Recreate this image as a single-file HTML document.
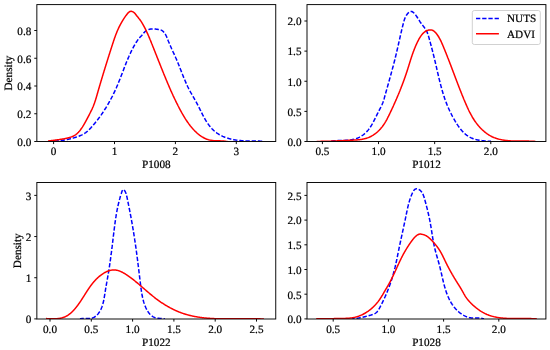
<!DOCTYPE html>
<html><head><meta charset="utf-8"><style>
html,body{margin:0;padding:0;background:#fff;width:550px;height:350px;overflow:hidden}
svg{display:block;text-rendering:geometricPrecision}
svg text{font-family:"Liberation Serif", "DejaVu Serif", serif;font-size:11.2px;fill:#000;stroke:#000;stroke-width:0.22px}
</style></head><body>
<svg width="550" height="350" viewBox="0 0 550 350">
<rect width="100%" height="100%" fill="#fff"/>
<g>
<clipPath id="cA1"><rect x="36.85" y="2.60" width="238.90" height="138.90"/></clipPath>
<path d="M50.00,141.22 L50.57,141.22 L51.13,141.21 L51.70,141.20 L52.27,141.19 L52.83,141.17 L53.40,141.15 L53.96,141.13 L54.52,141.10 L55.09,141.07 L55.65,141.04 L56.22,141.00 L56.78,140.95 L57.34,140.91 L57.91,140.86 L58.47,140.80 L59.03,140.75 L59.59,140.69 L60.15,140.62 L60.71,140.55 L61.27,140.48 L61.83,140.41 L62.39,140.33 L62.95,140.24 L63.51,140.16 L64.07,140.06 L64.63,139.97 L65.18,139.87 L65.74,139.77 L66.29,139.67 L66.85,139.56 L67.40,139.44 L67.96,139.33 L68.51,139.21 L69.06,139.08 L69.61,138.96 L70.17,138.83 L70.72,138.69 L71.27,138.55 L71.82,138.41 L72.36,138.26 L72.91,138.12 L73.46,137.96 L74.00,137.81 L74.55,137.64 L75.09,137.48 L75.64,137.31 L76.18,137.14 L76.72,136.96 L77.25,136.78 L77.79,136.59 L78.32,136.40 L78.85,136.20 L79.38,135.99 L79.90,135.78 L80.42,135.56 L80.93,135.33 L81.44,135.09 L81.95,134.85 L82.45,134.60 L82.94,134.34 L83.43,134.06 L83.91,133.78 L84.39,133.49 L84.86,133.19 L85.32,132.88 L85.78,132.56 L86.23,132.22 L86.67,131.88 L87.10,131.52 L87.53,131.16 L87.95,130.78 L88.37,130.40 L88.78,130.01 L89.18,129.61 L89.58,129.21 L89.98,128.80 L90.37,128.39 L90.75,127.97 L91.14,127.55 L91.52,127.12 L91.90,126.69 L92.28,126.26 L92.65,125.83 L93.02,125.40 L93.39,124.97 L93.76,124.53 L94.13,124.09 L94.49,123.66 L94.86,123.22 L95.22,122.78 L95.57,122.34 L95.93,121.89 L96.29,121.45 L96.64,121.00 L96.99,120.56 L97.34,120.11 L97.68,119.66 L98.03,119.21 L98.37,118.76 L98.71,118.30 L99.05,117.85 L99.39,117.39 L99.72,116.94 L100.06,116.48 L100.39,116.02 L100.72,115.56 L101.05,115.10 L101.37,114.63 L101.69,114.17 L102.02,113.70 L102.34,113.24 L102.65,112.77 L102.97,112.30 L103.28,111.83 L103.60,111.36 L103.91,110.89 L104.22,110.41 L104.52,109.94 L104.83,109.46 L105.13,108.99 L105.43,108.51 L105.73,108.03 L106.03,107.55 L106.32,107.07 L106.62,106.59 L106.91,106.11 L107.20,105.62 L107.49,105.14 L107.77,104.65 L108.06,104.16 L108.34,103.67 L108.62,103.18 L108.90,102.69 L109.18,102.20 L109.45,101.71 L109.73,101.22 L110.00,100.72 L110.27,100.23 L110.54,99.73 L110.80,99.23 L111.07,98.73 L111.33,98.24 L111.59,97.74 L111.85,97.23 L112.11,96.73 L112.36,96.23 L112.62,95.73 L112.87,95.22 L113.12,94.72 L113.37,94.21 L113.62,93.70 L113.86,93.19 L114.11,92.68 L114.35,92.17 L114.59,91.66 L114.83,91.15 L115.06,90.64 L115.30,90.12 L115.53,89.61 L115.76,89.10 L115.99,88.58 L116.22,88.06 L116.45,87.55 L116.67,87.03 L116.90,86.51 L117.12,85.99 L117.34,85.47 L117.56,84.95 L117.78,84.42 L117.99,83.90 L118.21,83.38 L118.42,82.86 L118.64,82.33 L118.85,81.81 L119.06,81.28 L119.27,80.76 L119.48,80.23 L119.68,79.70 L119.89,79.18 L120.10,78.65 L120.30,78.12 L120.51,77.60 L120.71,77.07 L120.92,76.54 L121.12,76.01 L121.33,75.48 L121.53,74.95 L121.73,74.42 L121.93,73.90 L122.14,73.37 L122.34,72.84 L122.54,72.31 L122.74,71.78 L122.95,71.25 L123.15,70.72 L123.35,70.19 L123.55,69.66 L123.76,69.13 L123.96,68.61 L124.16,68.08 L124.37,67.55 L124.57,67.02 L124.78,66.49 L124.98,65.97 L125.19,65.44 L125.40,64.91 L125.61,64.39 L125.82,63.86 L126.03,63.34 L126.24,62.81 L126.45,62.29 L126.66,61.76 L126.88,61.24 L127.09,60.72 L127.31,60.19 L127.53,59.67 L127.75,59.15 L127.97,58.63 L128.19,58.11 L128.41,57.59 L128.64,57.07 L128.87,56.56 L129.09,56.04 L129.33,55.52 L129.56,55.01 L129.79,54.50 L130.03,53.98 L130.27,53.47 L130.51,52.96 L130.75,52.45 L130.99,51.94 L131.24,51.43 L131.49,50.93 L131.74,50.42 L131.99,49.92 L132.25,49.41 L132.51,48.91 L132.77,48.41 L133.03,47.91 L133.30,47.41 L133.57,46.91 L133.84,46.42 L134.12,45.92 L134.39,45.43 L134.68,44.94 L134.96,44.45 L135.25,43.96 L135.54,43.47 L135.83,42.98 L136.13,42.50 L136.43,42.02 L136.73,41.54 L137.04,41.06 L137.36,40.59 L137.68,40.13 L138.01,39.67 L138.34,39.22 L138.69,38.77 L139.04,38.34 L139.40,37.92 L139.78,37.50 L140.16,37.10 L140.55,36.70 L140.94,36.30 L141.33,35.90 L141.72,35.50 L142.10,35.08 L142.46,34.65 L142.82,34.20 L143.17,33.74 L143.52,33.29 L143.88,32.84 L144.25,32.42 L144.65,32.01 L145.06,31.64 L145.49,31.28 L145.94,30.95 L146.40,30.64 L146.88,30.36 L147.37,30.11 L147.87,29.87 L148.39,29.66 L148.91,29.48 L149.44,29.32 L149.99,29.19 L150.54,29.08 L151.09,28.99 L151.65,28.94 L152.22,28.90 L152.79,28.89 L153.36,28.89 L153.93,28.91 L154.51,28.95 L155.09,29.01 L155.66,29.07 L156.24,29.14 L156.81,29.22 L157.38,29.31 L157.95,29.40 L158.52,29.49 L159.08,29.58 L159.63,29.68 L160.17,29.80 L160.70,29.95 L161.21,30.14 L161.70,30.37 L162.17,30.66 L162.62,30.99 L163.05,31.36 L163.46,31.76 L163.85,32.18 L164.21,32.62 L164.56,33.07 L164.88,33.53 L165.19,34.01 L165.48,34.49 L165.75,34.98 L166.01,35.48 L166.26,35.99 L166.50,36.50 L166.73,37.01 L166.95,37.54 L167.17,38.06 L167.38,38.59 L167.59,39.12 L167.79,39.65 L168.00,40.18 L168.21,40.71 L168.43,41.23 L168.64,41.76 L168.86,42.28 L169.08,42.81 L169.30,43.33 L169.52,43.85 L169.74,44.37 L169.97,44.89 L170.19,45.41 L170.42,45.93 L170.65,46.45 L170.88,46.96 L171.11,47.48 L171.34,48.00 L171.57,48.51 L171.80,49.03 L172.04,49.54 L172.27,50.06 L172.50,50.57 L172.74,51.08 L172.97,51.60 L173.21,52.11 L173.44,52.62 L173.67,53.14 L173.91,53.65 L174.14,54.16 L174.37,54.68 L174.61,55.19 L174.84,55.71 L175.07,56.22 L175.30,56.73 L175.53,57.25 L175.75,57.77 L175.98,58.28 L176.21,58.80 L176.43,59.32 L176.65,59.84 L176.87,60.36 L177.09,60.88 L177.31,61.40 L177.53,61.92 L177.74,62.44 L177.96,62.96 L178.17,63.48 L178.38,64.01 L178.59,64.53 L178.80,65.06 L179.01,65.58 L179.22,66.11 L179.43,66.63 L179.64,67.16 L179.85,67.68 L180.05,68.21 L180.26,68.74 L180.47,69.26 L180.67,69.79 L180.88,70.32 L181.08,70.84 L181.29,71.37 L181.50,71.90 L181.70,72.42 L181.91,72.95 L182.12,73.47 L182.33,74.00 L182.53,74.53 L182.74,75.05 L182.95,75.58 L183.16,76.10 L183.37,76.63 L183.59,77.15 L183.80,77.68 L184.01,78.20 L184.23,78.72 L184.44,79.24 L184.66,79.77 L184.88,80.29 L185.10,80.81 L185.32,81.33 L185.55,81.85 L185.77,82.36 L186.00,82.88 L186.23,83.40 L186.46,83.91 L186.69,84.43 L186.93,84.94 L187.17,85.45 L187.41,85.97 L187.65,86.48 L187.89,86.99 L188.14,87.49 L188.39,88.00 L188.64,88.51 L188.90,89.01 L189.15,89.51 L189.41,90.02 L189.68,90.52 L189.94,91.02 L190.21,91.52 L190.48,92.01 L190.76,92.51 L191.03,93.00 L191.31,93.50 L191.59,93.99 L191.87,94.49 L192.15,94.98 L192.43,95.47 L192.71,95.96 L192.99,96.45 L193.28,96.94 L193.56,97.44 L193.84,97.93 L194.13,98.42 L194.41,98.91 L194.69,99.40 L194.97,99.89 L195.25,100.38 L195.53,100.88 L195.81,101.37 L196.08,101.86 L196.36,102.36 L196.63,102.85 L196.90,103.35 L197.16,103.85 L197.43,104.35 L197.69,104.85 L197.95,105.35 L198.20,105.85 L198.46,106.35 L198.71,106.86 L198.97,107.36 L199.22,107.86 L199.47,108.37 L199.72,108.87 L199.96,109.38 L200.21,109.88 L200.46,110.39 L200.71,110.90 L200.96,111.40 L201.21,111.91 L201.46,112.41 L201.71,112.91 L201.96,113.42 L202.21,113.92 L202.47,114.42 L202.72,114.93 L202.98,115.43 L203.24,115.93 L203.51,116.43 L203.77,116.92 L204.04,117.42 L204.32,117.92 L204.59,118.41 L204.87,118.90 L205.15,119.39 L205.44,119.88 L205.73,120.37 L206.03,120.86 L206.33,121.34 L206.64,121.82 L206.95,122.30 L207.26,122.78 L207.58,123.25 L207.90,123.72 L208.23,124.18 L208.57,124.64 L208.91,125.10 L209.25,125.56 L209.60,126.00 L209.96,126.45 L210.32,126.89 L210.69,127.32 L211.06,127.75 L211.44,128.17 L211.82,128.59 L212.21,129.00 L212.61,129.40 L213.01,129.79 L213.42,130.18 L213.83,130.57 L214.25,130.94 L214.68,131.31 L215.11,131.66 L215.55,132.01 L216.00,132.36 L216.45,132.69 L216.90,133.02 L217.37,133.33 L217.83,133.65 L218.31,133.95 L218.79,134.24 L219.27,134.53 L219.76,134.81 L220.25,135.08 L220.75,135.35 L221.25,135.61 L221.76,135.86 L222.27,136.10 L222.78,136.34 L223.30,136.57 L223.82,136.79 L224.34,137.01 L224.87,137.22 L225.40,137.42 L225.93,137.61 L226.47,137.80 L227.01,137.98 L227.55,138.16 L228.09,138.33 L228.64,138.49 L229.18,138.64 L229.73,138.79 L230.28,138.94 L230.83,139.08 L231.39,139.21 L231.94,139.33 L232.50,139.45 L233.05,139.56 L233.61,139.67 L234.17,139.77 L234.72,139.87 L235.28,139.96 L235.84,140.04 L236.40,140.12 L236.96,140.20 L237.52,140.27 L238.08,140.34 L238.64,140.40 L239.20,140.46 L239.77,140.51 L240.33,140.56 L240.89,140.60 L241.45,140.65 L242.02,140.69 L242.58,140.72 L243.15,140.75 L243.71,140.78 L244.28,140.81 L244.84,140.84 L245.41,140.86 L245.97,140.88 L246.54,140.90 L247.10,140.91 L247.67,140.93 L248.24,140.94 L248.80,140.95 L249.37,140.96 L249.93,140.97 L250.50,140.98 L251.07,140.99 L251.63,140.99 L252.20,141.00 L252.77,141.01 L253.33,141.01 L253.90,141.02 L254.47,141.02 L255.03,141.03 L255.60,141.04 L256.16,141.05 L256.73,141.06 L257.30,141.07 L257.86,141.08 L258.43,141.09 L258.99,141.11 L259.56,141.12 L260.12,141.14 L260.68,141.16 L261.25,141.19 L261.81,141.21 L262.37,141.24 L262.94,141.27 L263.50,141.30" fill="none" stroke="#0000ff" stroke-width="1.50" stroke-dasharray="4.3 1.9" stroke-dashoffset="1.74" stroke-linecap="butt" clip-path="url(#cA1)"/>
<path d="M48.00,141.03 L48.58,140.95 L49.15,140.88 L49.73,140.80 L50.30,140.73 L50.88,140.66 L51.45,140.58 L52.02,140.51 L52.60,140.44 L53.17,140.37 L53.74,140.30 L54.31,140.22 L54.88,140.15 L55.46,140.08 L56.03,140.00 L56.60,139.93 L57.17,139.85 L57.74,139.78 L58.31,139.70 L58.88,139.62 L59.46,139.53 L60.03,139.45 L60.60,139.36 L61.17,139.28 L61.74,139.18 L62.31,139.09 L62.88,138.99 L63.45,138.89 L64.03,138.79 L64.60,138.68 L65.17,138.57 L65.74,138.46 L66.31,138.34 L66.88,138.21 L67.45,138.08 L68.01,137.94 L68.57,137.79 L69.13,137.64 L69.68,137.47 L70.23,137.29 L70.78,137.11 L71.32,136.91 L71.85,136.70 L72.37,136.48 L72.89,136.25 L73.41,136.00 L73.91,135.74 L74.41,135.46 L74.89,135.17 L75.37,134.86 L75.84,134.54 L76.30,134.19 L76.75,133.83 L77.18,133.45 L77.61,133.06 L78.03,132.65 L78.44,132.23 L78.83,131.79 L79.22,131.35 L79.60,130.90 L79.97,130.44 L80.34,129.97 L80.69,129.50 L81.04,129.02 L81.38,128.54 L81.72,128.06 L82.05,127.58 L82.37,127.10 L82.68,126.61 L82.99,126.12 L83.30,125.63 L83.60,125.14 L83.89,124.65 L84.19,124.15 L84.47,123.66 L84.76,123.16 L85.04,122.66 L85.31,122.16 L85.59,121.66 L85.86,121.16 L86.13,120.65 L86.40,120.15 L86.67,119.64 L86.93,119.14 L87.20,118.63 L87.46,118.12 L87.73,117.61 L87.99,117.10 L88.26,116.59 L88.53,116.08 L88.79,115.57 L89.06,115.05 L89.33,114.54 L89.59,114.03 L89.86,113.51 L90.12,112.99 L90.38,112.48 L90.64,111.96 L90.90,111.44 L91.15,110.92 L91.41,110.39 L91.66,109.87 L91.90,109.34 L92.15,108.82 L92.39,108.29 L92.62,107.76 L92.85,107.23 L93.08,106.70 L93.30,106.16 L93.52,105.63 L93.73,105.09 L93.94,104.55 L94.14,104.01 L94.34,103.46 L94.53,102.92 L94.72,102.37 L94.91,101.83 L95.09,101.28 L95.27,100.73 L95.45,100.18 L95.62,99.63 L95.79,99.08 L95.96,98.52 L96.13,97.97 L96.29,97.42 L96.45,96.86 L96.62,96.31 L96.78,95.75 L96.94,95.20 L97.10,94.64 L97.26,94.08 L97.42,93.53 L97.57,92.97 L97.73,92.42 L97.89,91.86 L98.05,91.31 L98.21,90.75 L98.37,90.20 L98.53,89.64 L98.70,89.09 L98.86,88.53 L99.02,87.98 L99.18,87.42 L99.34,86.87 L99.50,86.31 L99.67,85.76 L99.83,85.20 L99.99,84.65 L100.16,84.10 L100.32,83.54 L100.48,82.99 L100.65,82.44 L100.81,81.88 L100.98,81.33 L101.14,80.78 L101.31,80.22 L101.47,79.67 L101.64,79.12 L101.80,78.56 L101.97,78.01 L102.14,77.46 L102.30,76.90 L102.47,76.35 L102.64,75.80 L102.80,75.25 L102.97,74.69 L103.14,74.14 L103.31,73.59 L103.48,73.04 L103.64,72.48 L103.81,71.93 L103.98,71.38 L104.15,70.83 L104.32,70.28 L104.49,69.72 L104.66,69.17 L104.83,68.62 L105.00,68.07 L105.17,67.52 L105.34,66.97 L105.51,66.41 L105.68,65.86 L105.85,65.31 L106.02,64.76 L106.20,64.21 L106.37,63.66 L106.54,63.11 L106.71,62.55 L106.89,62.00 L107.06,61.45 L107.23,60.90 L107.40,60.35 L107.58,59.80 L107.75,59.25 L107.92,58.69 L108.10,58.14 L108.27,57.59 L108.45,57.04 L108.62,56.49 L108.79,55.94 L108.97,55.39 L109.14,54.84 L109.32,54.28 L109.49,53.73 L109.67,53.18 L109.85,52.63 L110.02,52.08 L110.20,51.53 L110.37,50.98 L110.55,50.43 L110.73,49.87 L110.90,49.32 L111.08,48.77 L111.26,48.22 L111.43,47.67 L111.61,47.12 L111.79,46.57 L111.97,46.02 L112.14,45.46 L112.32,44.91 L112.50,44.36 L112.68,43.81 L112.86,43.26 L113.04,42.71 L113.22,42.16 L113.40,41.61 L113.58,41.06 L113.77,40.51 L113.95,39.96 L114.14,39.41 L114.33,38.87 L114.52,38.32 L114.71,37.77 L114.90,37.23 L115.10,36.69 L115.29,36.14 L115.49,35.60 L115.69,35.06 L115.90,34.52 L116.10,33.98 L116.31,33.45 L116.52,32.91 L116.74,32.38 L116.96,31.84 L117.18,31.31 L117.40,30.78 L117.63,30.25 L117.86,29.73 L118.09,29.20 L118.32,28.68 L118.56,28.16 L118.81,27.64 L119.05,27.12 L119.30,26.60 L119.56,26.08 L119.82,25.57 L120.08,25.06 L120.34,24.54 L120.61,24.04 L120.89,23.53 L121.17,23.02 L121.45,22.52 L121.73,22.02 L122.03,21.52 L122.32,21.02 L122.62,20.52 L122.93,20.03 L123.24,19.53 L123.55,19.04 L123.87,18.55 L124.20,18.07 L124.53,17.58 L124.86,17.10 L125.21,16.62 L125.55,16.14 L125.90,15.66 L126.26,15.19 L126.62,14.71 L126.99,14.24 L127.37,13.78 L127.75,13.32 L128.14,12.88 L128.54,12.48 L128.96,12.11 L129.39,11.80 L129.85,11.56 L130.32,11.39 L130.81,11.30 L131.33,11.31 L131.87,11.41 L132.41,11.58 L132.94,11.83 L133.44,12.14 L133.92,12.50 L134.37,12.90 L134.79,13.34 L135.19,13.80 L135.58,14.27 L135.96,14.76 L136.33,15.24 L136.70,15.71 L137.07,16.17 L137.44,16.63 L137.81,17.08 L138.17,17.53 L138.53,17.98 L138.88,18.43 L139.24,18.87 L139.58,19.32 L139.93,19.77 L140.26,20.22 L140.59,20.68 L140.92,21.14 L141.24,21.61 L141.55,22.09 L141.86,22.58 L142.16,23.07 L142.45,23.57 L142.74,24.07 L143.02,24.57 L143.31,25.08 L143.58,25.59 L143.86,26.10 L144.13,26.62 L144.40,27.13 L144.66,27.64 L144.93,28.16 L145.19,28.68 L145.45,29.19 L145.70,29.71 L145.95,30.23 L146.20,30.76 L146.45,31.28 L146.70,31.80 L146.94,32.33 L147.18,32.85 L147.42,33.38 L147.66,33.90 L147.90,34.43 L148.13,34.96 L148.36,35.49 L148.59,36.02 L148.82,36.55 L149.05,37.08 L149.27,37.61 L149.50,38.14 L149.72,38.67 L149.94,39.21 L150.17,39.74 L150.39,40.28 L150.60,40.81 L150.82,41.35 L151.04,41.88 L151.26,42.42 L151.47,42.95 L151.69,43.49 L151.90,44.03 L152.12,44.56 L152.33,45.10 L152.54,45.64 L152.76,46.17 L152.97,46.71 L153.18,47.25 L153.39,47.78 L153.61,48.32 L153.82,48.86 L154.03,49.40 L154.25,49.93 L154.46,50.47 L154.67,51.01 L154.89,51.55 L155.10,52.08 L155.31,52.62 L155.52,53.16 L155.74,53.70 L155.95,54.23 L156.16,54.77 L156.38,55.31 L156.59,55.85 L156.80,56.38 L157.01,56.92 L157.23,57.46 L157.44,58.00 L157.65,58.53 L157.87,59.07 L158.08,59.61 L158.29,60.15 L158.51,60.68 L158.72,61.22 L158.94,61.76 L159.15,62.29 L159.36,62.83 L159.58,63.37 L159.79,63.91 L160.01,64.44 L160.22,64.98 L160.44,65.52 L160.65,66.05 L160.87,66.59 L161.08,67.13 L161.30,67.66 L161.51,68.20 L161.73,68.74 L161.94,69.27 L162.16,69.81 L162.38,70.35 L162.59,70.88 L162.81,71.42 L163.03,71.95 L163.24,72.49 L163.46,73.03 L163.68,73.56 L163.89,74.10 L164.11,74.63 L164.33,75.17 L164.55,75.70 L164.77,76.24 L164.99,76.77 L165.21,77.31 L165.43,77.84 L165.65,78.37 L165.87,78.91 L166.09,79.44 L166.31,79.98 L166.53,80.51 L166.76,81.04 L166.98,81.58 L167.20,82.11 L167.43,82.64 L167.65,83.17 L167.88,83.71 L168.10,84.24 L168.33,84.77 L168.56,85.30 L168.78,85.83 L169.01,86.36 L169.24,86.89 L169.47,87.42 L169.70,87.95 L169.93,88.48 L170.16,89.01 L170.39,89.54 L170.63,90.07 L170.86,90.60 L171.10,91.12 L171.33,91.65 L171.57,92.18 L171.80,92.70 L172.04,93.23 L172.28,93.76 L172.52,94.28 L172.76,94.81 L173.00,95.33 L173.24,95.86 L173.49,96.38 L173.73,96.90 L173.98,97.43 L174.22,97.95 L174.47,98.47 L174.72,98.99 L174.97,99.51 L175.22,100.03 L175.47,100.55 L175.72,101.07 L175.98,101.59 L176.23,102.11 L176.49,102.63 L176.74,103.15 L177.00,103.66 L177.26,104.18 L177.52,104.70 L177.78,105.21 L178.04,105.73 L178.31,106.24 L178.57,106.75 L178.84,107.27 L179.11,107.78 L179.38,108.29 L179.65,108.80 L179.92,109.31 L180.19,109.82 L180.47,110.33 L180.74,110.84 L181.02,111.35 L181.30,111.86 L181.58,112.36 L181.86,112.87 L182.15,113.37 L182.43,113.88 L182.72,114.38 L183.01,114.88 L183.30,115.38 L183.59,115.88 L183.89,116.38 L184.19,116.88 L184.49,117.37 L184.79,117.86 L185.10,118.36 L185.40,118.85 L185.72,119.33 L186.03,119.82 L186.34,120.30 L186.66,120.78 L186.99,121.26 L187.31,121.74 L187.64,122.22 L187.97,122.69 L188.31,123.16 L188.64,123.63 L188.99,124.09 L189.33,124.55 L189.68,125.01 L190.03,125.47 L190.39,125.92 L190.75,126.37 L191.11,126.82 L191.48,127.26 L191.86,127.70 L192.23,128.14 L192.61,128.58 L193.00,129.01 L193.39,129.43 L193.78,129.86 L194.18,130.28 L194.59,130.69 L194.99,131.10 L195.41,131.51 L195.83,131.91 L196.25,132.31 L196.68,132.71 L197.11,133.09 L197.55,133.48 L197.99,133.85 L198.44,134.22 L198.89,134.59 L199.35,134.94 L199.81,135.29 L200.28,135.63 L200.75,135.96 L201.23,136.29 L201.71,136.60 L202.20,136.91 L202.69,137.20 L203.19,137.49 L203.69,137.77 L204.20,138.03 L204.71,138.28 L205.23,138.53 L205.76,138.76 L206.28,138.98 L206.82,139.18 L207.36,139.38 L207.90,139.56 L208.45,139.73 L209.00,139.88 L209.56,140.02 L210.13,140.14 L210.70,140.25 L211.27,140.35 L211.85,140.44 L212.43,140.51 L213.01,140.57 L213.60,140.63 L214.19,140.67 L214.78,140.71 L215.37,140.74 L215.97,140.76 L216.56,140.79 L217.15,140.80 L217.74,140.82 L218.34,140.83 L218.92,140.84 L219.51,140.86 L220.10,140.87 L220.68,140.89 L221.26,140.91 L221.83,140.93 L222.40,140.96 L222.96,141.00 L223.52,141.04 L224.08,141.09 L224.62,141.15 L225.16,141.22 L225.70,141.30 L226.23,141.39 L226.75,141.48 L227.28,141.57 L227.80,141.66 L228.34,141.74 L228.87,141.82 L229.42,141.88 L229.97,141.93 L230.54,141.96 L231.12,141.97 L231.71,141.95 L232.33,141.91 L232.96,141.83 L233.61,141.73 L234.29,141.58 L235.00,141.40" fill="none" stroke="#ff0000" stroke-width="1.50" stroke-linecap="butt" clip-path="url(#cA1)"/>
<rect x="36.85" y="4.60" width="238.90" height="136.90" fill="none" stroke="#000" stroke-width="0.95"/>
<path d="M53.60,141.50v2.60M114.50,141.50v2.60M175.40,141.50v2.60M236.30,141.50v2.60M36.85,141.50h-2.60M36.85,113.75h-2.60M36.85,86.00h-2.60M36.85,58.25h-2.60M36.85,30.50h-2.60" stroke="#000" stroke-width="0.95" fill="none"/>
<text x="53.60" y="154.90" text-anchor="middle">0</text>
<text x="114.50" y="154.90" text-anchor="middle">1</text>
<text x="175.40" y="154.90" text-anchor="middle">2</text>
<text x="236.30" y="154.90" text-anchor="middle">3</text>
<text x="31.35" y="145.80" text-anchor="end">0.0</text>
<text x="31.35" y="118.05" text-anchor="end">0.2</text>
<text x="31.35" y="90.30" text-anchor="end">0.4</text>
<text x="31.35" y="62.55" text-anchor="end">0.6</text>
<text x="31.35" y="34.80" text-anchor="end">0.8</text>
<text x="156.30" y="168.10" text-anchor="middle">P1008</text>
<text transform="translate(12.00,73.05) rotate(-90)" text-anchor="middle">Density</text>
</g>
<g>
<clipPath id="cA2"><rect x="307.00" y="2.60" width="238.90" height="138.90"/></clipPath>
<path d="M330.02,141.21 L330.55,141.14 L331.08,141.07 L331.61,141.00 L332.14,140.94 L332.68,140.89 L333.23,140.85 L333.77,140.80 L334.32,140.77 L334.87,140.73 L335.43,140.70 L335.98,140.67 L336.54,140.65 L337.10,140.63 L337.66,140.61 L338.23,140.59 L338.79,140.58 L339.36,140.56 L339.92,140.55 L340.49,140.53 L341.06,140.52 L341.63,140.51 L342.20,140.49 L342.77,140.47 L343.34,140.45 L343.91,140.43 L344.48,140.41 L345.05,140.38 L345.62,140.35 L346.19,140.32 L346.76,140.28 L347.32,140.24 L347.89,140.19 L348.45,140.14 L349.01,140.08 L349.57,140.02 L350.13,139.95 L350.68,139.87 L351.23,139.79 L351.78,139.69 L352.33,139.59 L352.87,139.49 L353.42,139.37 L353.95,139.24 L354.49,139.11 L355.02,138.96 L355.54,138.81 L356.07,138.64 L356.59,138.46 L357.10,138.27 L357.61,138.07 L358.11,137.86 L358.61,137.63 L359.11,137.40 L359.60,137.15 L360.08,136.88 L360.56,136.61 L361.03,136.33 L361.50,136.03 L361.96,135.73 L362.42,135.41 L362.87,135.09 L363.31,134.76 L363.75,134.41 L364.18,134.06 L364.60,133.70 L365.02,133.33 L365.43,132.95 L365.83,132.57 L366.23,132.18 L366.62,131.78 L367.00,131.37 L367.37,130.96 L367.74,130.54 L368.09,130.12 L368.44,129.68 L368.79,129.25 L369.12,128.81 L369.45,128.36 L369.77,127.91 L370.09,127.45 L370.40,126.99 L370.70,126.53 L371.00,126.06 L371.30,125.58 L371.59,125.11 L371.87,124.63 L372.15,124.14 L372.43,123.66 L372.70,123.17 L372.97,122.68 L373.24,122.18 L373.50,121.69 L373.76,121.19 L374.02,120.69 L374.27,120.19 L374.53,119.68 L374.78,119.18 L375.03,118.68 L375.28,118.17 L375.53,117.67 L375.77,117.16 L376.02,116.65 L376.27,116.15 L376.51,115.64 L376.76,115.14 L377.01,114.64 L377.26,114.13 L377.51,113.63 L377.76,113.13 L378.02,112.63 L378.27,112.14 L378.53,111.64 L378.79,111.15 L379.04,110.66 L379.30,110.16 L379.56,109.67 L379.81,109.18 L380.06,108.69 L380.32,108.19 L380.56,107.70 L380.81,107.21 L381.05,106.71 L381.29,106.22 L381.53,105.72 L381.76,105.22 L381.98,104.71 L382.20,104.21 L382.41,103.70 L382.62,103.19 L382.82,102.68 L383.01,102.16 L383.20,101.64 L383.38,101.12 L383.55,100.59 L383.72,100.06 L383.88,99.53 L384.04,99.00 L384.19,98.46 L384.34,97.93 L384.49,97.39 L384.64,96.85 L384.79,96.31 L384.94,95.78 L385.09,95.24 L385.24,94.70 L385.39,94.16 L385.54,93.63 L385.69,93.09 L385.84,92.55 L385.99,92.01 L386.14,91.48 L386.29,90.94 L386.45,90.40 L386.60,89.86 L386.75,89.33 L386.90,88.79 L387.05,88.25 L387.20,87.71 L387.35,87.18 L387.50,86.64 L387.65,86.10 L387.81,85.56 L387.96,85.03 L388.11,84.49 L388.26,83.95 L388.41,83.41 L388.56,82.88 L388.71,82.34 L388.86,81.80 L389.01,81.26 L389.16,80.73 L389.31,80.19 L389.46,79.65 L389.61,79.11 L389.76,78.57 L389.91,78.04 L390.06,77.50 L390.21,76.96 L390.36,76.42 L390.51,75.89 L390.66,75.35 L390.81,74.81 L390.96,74.27 L391.10,73.73 L391.25,73.20 L391.40,72.66 L391.54,72.12 L391.69,71.58 L391.84,71.04 L391.98,70.50 L392.13,69.97 L392.27,69.43 L392.42,68.89 L392.56,68.35 L392.71,67.81 L392.85,67.27 L392.99,66.73 L393.13,66.19 L393.28,65.66 L393.42,65.12 L393.56,64.58 L393.70,64.04 L393.84,63.50 L393.98,62.96 L394.12,62.42 L394.26,61.88 L394.39,61.34 L394.53,60.80 L394.67,60.26 L394.80,59.72 L394.94,59.18 L395.07,58.64 L395.21,58.10 L395.34,57.56 L395.47,57.02 L395.61,56.48 L395.74,55.94 L395.87,55.40 L396.00,54.86 L396.13,54.32 L396.26,53.78 L396.38,53.24 L396.51,52.70 L396.64,52.15 L396.77,51.61 L396.89,51.07 L397.02,50.53 L397.14,49.99 L397.27,49.45 L397.39,48.91 L397.52,48.36 L397.64,47.82 L397.76,47.28 L397.89,46.74 L398.01,46.20 L398.13,45.65 L398.26,45.11 L398.38,44.57 L398.50,44.03 L398.62,43.48 L398.75,42.94 L398.87,42.40 L398.99,41.86 L399.11,41.31 L399.24,40.77 L399.36,40.23 L399.48,39.68 L399.60,39.14 L399.73,38.60 L399.85,38.05 L399.97,37.51 L400.10,36.97 L400.22,36.42 L400.34,35.88 L400.47,35.34 L400.59,34.79 L400.72,34.25 L400.84,33.71 L400.97,33.16 L401.10,32.62 L401.22,32.08 L401.35,31.53 L401.48,30.99 L401.61,30.44 L401.74,29.90 L401.87,29.36 L402.00,28.81 L402.13,28.27 L402.26,27.72 L402.40,27.18 L402.53,26.64 L402.66,26.09 L402.80,25.55 L402.93,25.00 L403.07,24.46 L403.21,23.91 L403.35,23.37 L403.49,22.83 L403.63,22.28 L403.78,21.74 L403.93,21.20 L404.09,20.66 L404.26,20.12 L404.43,19.59 L404.62,19.05 L404.82,18.52 L405.03,18.00 L405.25,17.48 L405.49,16.96 L405.75,16.45 L406.03,15.94 L406.32,15.44 L406.64,14.95 L406.98,14.46 L407.33,13.99 L407.71,13.54 L408.09,13.11 L408.49,12.73 L408.90,12.38 L409.32,12.08 L409.74,11.83 L410.17,11.64 L410.60,11.52 L411.02,11.47 L411.44,11.49 L411.86,11.59 L412.28,11.75 L412.69,11.97 L413.09,12.24 L413.49,12.56 L413.88,12.92 L414.27,13.32 L414.65,13.74 L415.02,14.18 L415.38,14.64 L415.73,15.11 L416.07,15.58 L416.41,16.06 L416.73,16.54 L417.05,17.02 L417.36,17.51 L417.67,17.99 L417.98,18.48 L418.28,18.97 L418.58,19.45 L418.88,19.94 L419.19,20.42 L419.49,20.90 L419.79,21.38 L420.10,21.85 L420.41,22.32 L420.73,22.79 L421.05,23.24 L421.38,23.70 L421.72,24.15 L422.06,24.59 L422.41,25.03 L422.75,25.47 L423.09,25.90 L423.44,26.34 L423.78,26.78 L424.12,27.22 L424.45,27.66 L424.77,28.10 L425.09,28.55 L425.39,29.01 L425.69,29.47 L425.97,29.94 L426.24,30.41 L426.49,30.90 L426.74,31.39 L426.97,31.89 L427.19,32.40 L427.40,32.91 L427.60,33.42 L427.79,33.95 L427.97,34.47 L428.15,35.00 L428.32,35.54 L428.49,36.07 L428.65,36.61 L428.80,37.15 L428.96,37.70 L429.11,38.24 L429.26,38.78 L429.40,39.33 L429.55,39.87 L429.70,40.41 L429.85,40.95 L429.99,41.49 L430.14,42.03 L430.28,42.58 L430.43,43.12 L430.57,43.66 L430.72,44.20 L430.86,44.74 L431.01,45.28 L431.15,45.81 L431.29,46.35 L431.43,46.89 L431.58,47.43 L431.72,47.97 L431.86,48.51 L432.00,49.05 L432.14,49.58 L432.28,50.12 L432.42,50.66 L432.56,51.20 L432.69,51.74 L432.83,52.27 L432.97,52.81 L433.10,53.35 L433.24,53.89 L433.37,54.43 L433.51,54.97 L433.64,55.50 L433.78,56.04 L433.91,56.58 L434.04,57.12 L434.18,57.66 L434.31,58.20 L434.44,58.74 L434.57,59.28 L434.70,59.82 L434.83,60.36 L434.96,60.90 L435.09,61.44 L435.22,61.98 L435.34,62.53 L435.47,63.07 L435.60,63.61 L435.72,64.15 L435.85,64.70 L435.97,65.24 L436.10,65.78 L436.23,66.33 L436.35,66.87 L436.48,67.42 L436.60,67.96 L436.72,68.50 L436.85,69.05 L436.97,69.59 L437.10,70.14 L437.22,70.68 L437.35,71.23 L437.47,71.77 L437.60,72.32 L437.73,72.86 L437.85,73.41 L437.98,73.95 L438.10,74.50 L438.23,75.04 L438.36,75.58 L438.49,76.13 L438.61,76.67 L438.74,77.22 L438.87,77.76 L439.00,78.31 L439.13,78.85 L439.26,79.39 L439.40,79.94 L439.53,80.48 L439.66,81.02 L439.80,81.56 L439.93,82.11 L440.07,82.65 L440.21,83.19 L440.34,83.73 L440.48,84.27 L440.62,84.81 L440.77,85.35 L440.91,85.89 L441.05,86.43 L441.20,86.97 L441.34,87.51 L441.49,88.05 L441.64,88.59 L441.79,89.12 L441.94,89.66 L442.09,90.19 L442.25,90.73 L442.41,91.27 L442.56,91.80 L442.72,92.33 L442.88,92.87 L443.05,93.40 L443.21,93.93 L443.38,94.46 L443.54,94.99 L443.71,95.52 L443.88,96.05 L444.06,96.58 L444.23,97.11 L444.41,97.63 L444.59,98.16 L444.77,98.68 L444.95,99.21 L445.14,99.73 L445.33,100.26 L445.52,100.78 L445.71,101.30 L445.90,101.82 L446.10,102.34 L446.30,102.86 L446.50,103.37 L446.70,103.89 L446.91,104.41 L447.11,104.92 L447.32,105.44 L447.54,105.95 L447.75,106.46 L447.97,106.97 L448.18,107.48 L448.41,107.99 L448.63,108.50 L448.85,109.01 L449.08,109.52 L449.31,110.02 L449.54,110.53 L449.78,111.03 L450.02,111.53 L450.26,112.03 L450.50,112.54 L450.74,113.04 L450.99,113.53 L451.24,114.03 L451.49,114.53 L451.75,115.03 L452.00,115.52 L452.26,116.01 L452.52,116.51 L452.79,117.00 L453.06,117.49 L453.33,117.98 L453.60,118.47 L453.87,118.95 L454.15,119.44 L454.43,119.93 L454.71,120.41 L455.00,120.89 L455.28,121.38 L455.57,121.86 L455.87,122.34 L456.16,122.82 L456.46,123.29 L456.76,123.77 L457.07,124.24 L457.37,124.71 L457.69,125.18 L458.00,125.65 L458.32,126.11 L458.64,126.57 L458.97,127.03 L459.29,127.48 L459.63,127.93 L459.97,128.37 L460.31,128.82 L460.66,129.25 L461.01,129.68 L461.36,130.11 L461.73,130.53 L462.09,130.94 L462.46,131.35 L462.84,131.75 L463.22,132.14 L463.61,132.53 L464.00,132.91 L464.40,133.29 L464.81,133.66 L465.22,134.01 L465.64,134.37 L466.06,134.71 L466.49,135.04 L466.93,135.37 L467.37,135.68 L467.82,135.99 L468.28,136.29 L468.74,136.58 L469.21,136.85 L469.69,137.12 L470.18,137.38 L470.67,137.63 L471.17,137.86 L471.68,138.09 L472.20,138.30 L472.72,138.50 L473.25,138.70 L473.78,138.88 L474.32,139.06 L474.87,139.22 L475.42,139.38 L475.97,139.53 L476.53,139.66 L477.09,139.80 L477.65,139.92 L478.22,140.04 L478.79,140.15 L479.36,140.25 L479.93,140.34 L480.50,140.43 L481.07,140.52 L481.64,140.59 L482.21,140.67 L482.79,140.73 L483.36,140.80 L483.92,140.85 L484.49,140.91 L485.05,140.96 L485.61,141.00 L486.17,141.04 L486.72,141.08 L487.27,141.12 L487.82,141.15 L488.36,141.18 L488.89,141.21 L489.42,141.24 L489.95,141.26 L490.46,141.28 L490.97,141.31" fill="none" stroke="#0000ff" stroke-width="1.50" stroke-dasharray="4.3 1.9" stroke-dashoffset="4.80" stroke-linecap="butt" clip-path="url(#cA2)"/>
<path d="M316.69,141.39 L317.29,141.39 L317.89,141.39 L318.49,141.39 L319.08,141.39 L319.68,141.38 L320.27,141.38 L320.86,141.37 L321.46,141.37 L322.05,141.36 L322.64,141.35 L323.23,141.34 L323.81,141.33 L324.40,141.32 L324.99,141.30 L325.57,141.29 L326.16,141.28 L326.74,141.26 L327.33,141.24 L327.91,141.23 L328.49,141.21 L329.07,141.19 L329.66,141.17 L330.24,141.15 L330.82,141.13 L331.40,141.11 L331.98,141.09 L332.56,141.06 L333.14,141.04 L333.72,141.02 L334.30,140.99 L334.88,140.97 L335.46,140.95 L336.04,140.92 L336.62,140.89 L337.19,140.87 L337.77,140.84 L338.35,140.82 L338.93,140.79 L339.52,140.76 L340.10,140.74 L340.68,140.71 L341.26,140.68 L341.84,140.65 L342.42,140.63 L343.01,140.60 L343.59,140.57 L344.17,140.54 L344.76,140.52 L345.34,140.49 L345.93,140.46 L346.52,140.44 L347.10,140.41 L347.69,140.38 L348.28,140.36 L348.87,140.33 L349.47,140.31 L350.06,140.28 L350.65,140.26 L351.25,140.23 L351.84,140.20 L352.44,140.18 L353.03,140.15 L353.63,140.12 L354.23,140.09 L354.82,140.05 L355.42,140.02 L356.01,139.98 L356.61,139.93 L357.20,139.88 L357.79,139.83 L358.38,139.77 L358.97,139.71 L359.56,139.64 L360.15,139.57 L360.73,139.49 L361.31,139.40 L361.90,139.31 L362.47,139.20 L363.05,139.09 L363.62,138.97 L364.19,138.85 L364.76,138.71 L365.32,138.56 L365.88,138.41 L366.43,138.24 L366.99,138.06 L367.53,137.87 L368.08,137.67 L368.62,137.46 L369.15,137.24 L369.68,137.00 L370.21,136.75 L370.73,136.49 L371.25,136.22 L371.76,135.94 L372.26,135.65 L372.76,135.35 L373.26,135.04 L373.75,134.72 L374.23,134.39 L374.71,134.05 L375.18,133.71 L375.65,133.35 L376.11,132.99 L376.57,132.61 L377.02,132.23 L377.46,131.84 L377.89,131.45 L378.32,131.04 L378.75,130.63 L379.16,130.22 L379.57,129.79 L379.98,129.37 L380.37,128.93 L380.76,128.49 L381.14,128.04 L381.51,127.59 L381.88,127.14 L382.24,126.68 L382.59,126.21 L382.94,125.74 L383.28,125.27 L383.61,124.79 L383.93,124.30 L384.25,123.82 L384.57,123.33 L384.88,122.84 L385.18,122.34 L385.48,121.84 L385.78,121.34 L386.07,120.83 L386.36,120.32 L386.64,119.81 L386.92,119.30 L387.19,118.78 L387.46,118.26 L387.73,117.74 L388.00,117.22 L388.26,116.70 L388.53,116.17 L388.78,115.65 L389.04,115.12 L389.30,114.59 L389.55,114.06 L389.81,113.53 L390.06,113.00 L390.31,112.47 L390.57,111.94 L390.82,111.41 L391.07,110.88 L391.32,110.34 L391.57,109.81 L391.82,109.28 L392.07,108.74 L392.31,108.21 L392.56,107.67 L392.81,107.14 L393.05,106.60 L393.30,106.07 L393.54,105.53 L393.78,104.99 L394.02,104.46 L394.27,103.92 L394.51,103.38 L394.75,102.84 L394.99,102.30 L395.22,101.77 L395.46,101.23 L395.70,100.69 L395.94,100.15 L396.17,99.61 L396.41,99.07 L396.64,98.52 L396.87,97.98 L397.10,97.44 L397.33,96.90 L397.56,96.36 L397.79,95.82 L398.02,95.27 L398.25,94.73 L398.48,94.19 L398.70,93.64 L398.93,93.10 L399.15,92.55 L399.37,92.01 L399.59,91.46 L399.82,90.92 L400.04,90.37 L400.25,89.83 L400.47,89.28 L400.69,88.74 L400.90,88.19 L401.12,87.64 L401.33,87.10 L401.55,86.55 L401.76,86.00 L401.97,85.45 L402.18,84.91 L402.39,84.36 L402.59,83.81 L402.80,83.26 L403.01,82.71 L403.21,82.16 L403.41,81.62 L403.62,81.07 L403.82,80.52 L404.02,79.97 L404.21,79.42 L404.41,78.87 L404.61,78.32 L404.80,77.77 L405.00,77.22 L405.19,76.66 L405.38,76.11 L405.57,75.56 L405.76,75.01 L405.95,74.46 L406.13,73.91 L406.32,73.36 L406.50,72.81 L406.69,72.25 L406.87,71.70 L407.05,71.15 L407.23,70.60 L407.41,70.04 L407.58,69.49 L407.76,68.94 L407.93,68.39 L408.11,67.83 L408.28,67.28 L408.45,66.73 L408.63,66.17 L408.80,65.62 L408.97,65.07 L409.14,64.52 L409.31,63.96 L409.48,63.41 L409.66,62.86 L409.83,62.30 L410.00,61.75 L410.18,61.20 L410.35,60.64 L410.53,60.09 L410.70,59.54 L410.88,58.99 L411.06,58.43 L411.24,57.88 L411.42,57.33 L411.60,56.78 L411.78,56.22 L411.97,55.67 L412.16,55.12 L412.35,54.57 L412.54,54.01 L412.73,53.46 L412.93,52.91 L413.13,52.36 L413.33,51.81 L413.53,51.26 L413.74,50.71 L413.95,50.16 L414.16,49.61 L414.38,49.06 L414.59,48.51 L414.82,47.96 L415.04,47.41 L415.27,46.86 L415.50,46.31 L415.74,45.76 L415.98,45.21 L416.22,44.66 L416.47,44.12 L416.73,43.57 L416.98,43.02 L417.24,42.48 L417.51,41.93 L417.78,41.38 L418.06,40.84 L418.34,40.29 L418.62,39.75 L418.91,39.21 L419.21,38.67 L419.52,38.14 L419.83,37.62 L420.15,37.10 L420.47,36.59 L420.81,36.09 L421.15,35.60 L421.51,35.13 L421.87,34.66 L422.24,34.21 L422.62,33.78 L423.02,33.36 L423.42,32.96 L423.84,32.58 L424.26,32.22 L424.70,31.88 L425.16,31.56 L425.62,31.26 L426.10,30.99 L426.60,30.75 L427.10,30.53 L427.63,30.34 L428.16,30.18 L428.70,30.05 L429.25,29.96 L429.80,29.91 L430.35,29.90 L430.89,29.93 L431.43,30.01 L431.97,30.13 L432.49,30.31 L433.00,30.54 L433.49,30.83 L433.97,31.16 L434.43,31.54 L434.87,31.94 L435.30,32.38 L435.72,32.83 L436.12,33.30 L436.51,33.78 L436.89,34.26 L437.25,34.74 L437.60,35.24 L437.94,35.73 L438.27,36.23 L438.59,36.74 L438.90,37.25 L439.20,37.76 L439.49,38.28 L439.77,38.80 L440.05,39.32 L440.32,39.85 L440.58,40.37 L440.83,40.90 L441.08,41.44 L441.33,41.97 L441.57,42.51 L441.81,43.05 L442.04,43.58 L442.28,44.12 L442.51,44.66 L442.74,45.20 L442.97,45.75 L443.19,46.29 L443.42,46.83 L443.65,47.37 L443.87,47.91 L444.09,48.45 L444.32,49.00 L444.54,49.54 L444.76,50.08 L444.98,50.62 L445.21,51.17 L445.43,51.71 L445.64,52.25 L445.86,52.80 L446.08,53.34 L446.30,53.88 L446.52,54.43 L446.73,54.97 L446.95,55.52 L447.16,56.06 L447.38,56.61 L447.59,57.15 L447.80,57.70 L448.02,58.24 L448.23,58.79 L448.44,59.33 L448.65,59.88 L448.86,60.42 L449.08,60.97 L449.29,61.52 L449.50,62.06 L449.71,62.61 L449.92,63.15 L450.12,63.70 L450.33,64.25 L450.54,64.79 L450.75,65.34 L450.96,65.89 L451.17,66.43 L451.37,66.98 L451.58,67.53 L451.79,68.07 L451.99,68.62 L452.20,69.17 L452.41,69.72 L452.62,70.26 L452.82,70.81 L453.03,71.36 L453.24,71.90 L453.44,72.45 L453.65,73.00 L453.85,73.55 L454.06,74.09 L454.27,74.64 L454.47,75.19 L454.68,75.74 L454.89,76.28 L455.09,76.83 L455.30,77.38 L455.51,77.92 L455.71,78.47 L455.92,79.02 L456.13,79.57 L456.34,80.11 L456.55,80.66 L456.75,81.21 L456.96,81.75 L457.17,82.30 L457.38,82.85 L457.59,83.40 L457.80,83.94 L458.01,84.49 L458.22,85.04 L458.43,85.58 L458.64,86.13 L458.85,86.68 L459.06,87.22 L459.28,87.77 L459.49,88.31 L459.70,88.86 L459.92,89.41 L460.13,89.95 L460.35,90.50 L460.56,91.04 L460.78,91.59 L460.99,92.13 L461.21,92.68 L461.43,93.23 L461.65,93.77 L461.86,94.32 L462.08,94.86 L462.30,95.40 L462.53,95.95 L462.75,96.49 L462.97,97.04 L463.19,97.58 L463.42,98.12 L463.64,98.67 L463.87,99.21 L464.09,99.76 L464.32,100.30 L464.55,100.84 L464.78,101.38 L465.01,101.93 L465.24,102.47 L465.47,103.01 L465.70,103.55 L465.94,104.09 L466.17,104.63 L466.41,105.17 L466.65,105.71 L466.89,106.25 L467.13,106.79 L467.37,107.33 L467.62,107.86 L467.87,108.40 L468.11,108.93 L468.37,109.46 L468.62,110.00 L468.88,110.53 L469.13,111.05 L469.40,111.58 L469.66,112.11 L469.93,112.63 L470.20,113.15 L470.47,113.67 L470.75,114.19 L471.02,114.71 L471.31,115.22 L471.59,115.74 L471.88,116.25 L472.18,116.76 L472.47,117.26 L472.77,117.76 L473.08,118.27 L473.39,118.76 L473.70,119.26 L474.01,119.75 L474.34,120.24 L474.66,120.73 L474.99,121.21 L475.33,121.70 L475.67,122.17 L476.01,122.65 L476.36,123.12 L476.71,123.59 L477.07,124.06 L477.44,124.52 L477.81,124.98 L478.18,125.43 L478.56,125.88 L478.94,126.33 L479.33,126.77 L479.73,127.21 L480.13,127.64 L480.53,128.07 L480.94,128.49 L481.36,128.91 L481.78,129.32 L482.20,129.73 L482.63,130.13 L483.06,130.52 L483.50,130.91 L483.95,131.30 L484.39,131.68 L484.85,132.05 L485.30,132.41 L485.76,132.77 L486.23,133.12 L486.70,133.46 L487.17,133.80 L487.65,134.13 L488.14,134.45 L488.62,134.76 L489.12,135.07 L489.61,135.37 L490.11,135.66 L490.62,135.94 L491.12,136.21 L491.64,136.47 L492.15,136.73 L492.67,136.98 L493.20,137.21 L493.73,137.44 L494.26,137.66 L494.80,137.87 L495.34,138.07 L495.88,138.26 L496.43,138.44 L496.98,138.62 L497.53,138.79 L498.09,138.95 L498.65,139.10 L499.21,139.25 L499.77,139.38 L500.34,139.51 L500.91,139.64 L501.48,139.76 L502.06,139.87 L502.64,139.97 L503.22,140.07 L503.80,140.16 L504.38,140.25 L504.97,140.33 L505.56,140.41 L506.15,140.48 L506.74,140.54 L507.33,140.60 L507.92,140.66 L508.52,140.71 L509.12,140.76 L509.71,140.80 L510.31,140.84 L510.91,140.88 L511.51,140.91 L512.11,140.94 L512.71,140.96 L513.31,140.99 L513.92,141.01 L514.52,141.02 L515.12,141.04 L515.72,141.05 L516.33,141.06 L516.93,141.07 L517.53,141.08 L518.13,141.08 L518.74,141.08 L519.34,141.09 L519.94,141.09 L520.54,141.09 L521.14,141.09 L521.73,141.09 L522.33,141.09 L522.93,141.09 L523.52,141.09 L524.11,141.09 L524.71,141.09 L525.30,141.09 L525.88,141.09 L526.47,141.09 L527.06,141.10 L527.64,141.10 L528.22,141.11 L528.80,141.12 L529.37,141.13 L529.95,141.14 L530.52,141.16 L531.09,141.18 L531.66,141.20 L532.22,141.22 L532.78,141.25 L533.34,141.28 L533.89,141.31 L534.44,141.35 L534.99,141.39 L535.54,141.43" fill="none" stroke="#ff0000" stroke-width="1.50" stroke-linecap="butt" clip-path="url(#cA2)"/>
<rect x="307.00" y="4.60" width="238.90" height="136.90" fill="none" stroke="#000" stroke-width="0.95"/>
<path d="M322.40,141.50v2.60M378.53,141.50v2.60M434.67,141.50v2.60M490.80,141.50v2.60M307.00,141.50h-2.60M307.00,111.38h-2.60M307.00,81.25h-2.60M307.00,51.12h-2.60M307.00,21.00h-2.60" stroke="#000" stroke-width="0.95" fill="none"/>
<text x="322.40" y="154.90" text-anchor="middle">0.5</text>
<text x="378.53" y="154.90" text-anchor="middle">1.0</text>
<text x="434.67" y="154.90" text-anchor="middle">1.5</text>
<text x="490.80" y="154.90" text-anchor="middle">2.0</text>
<text x="301.50" y="145.80" text-anchor="end">0.0</text>
<text x="301.50" y="115.67" text-anchor="end">0.5</text>
<text x="301.50" y="85.55" text-anchor="end">1.0</text>
<text x="301.50" y="55.42" text-anchor="end">1.5</text>
<text x="301.50" y="25.30" text-anchor="end">2.0</text>
<text x="426.45" y="168.10" text-anchor="middle">P1012</text>
</g>
<g>
<clipPath id="cA3"><rect x="36.85" y="180.50" width="238.90" height="138.50"/></clipPath>
<path d="M80.01,318.91 L80.42,318.80 L80.84,318.71 L81.28,318.64 L81.73,318.58 L82.19,318.54 L82.67,318.52 L83.16,318.50 L83.65,318.49 L84.16,318.49 L84.67,318.50 L85.19,318.51 L85.71,318.52 L86.23,318.53 L86.76,318.54 L87.29,318.55 L87.82,318.55 L88.34,318.54 L88.86,318.52 L89.38,318.49 L89.90,318.45 L90.41,318.39 L90.90,318.32 L91.40,318.23 L91.88,318.12 L92.34,317.98 L92.80,317.82 L93.25,317.65 L93.68,317.45 L94.11,317.23 L94.52,317.00 L94.92,316.75 L95.31,316.48 L95.70,316.19 L96.07,315.89 L96.43,315.58 L96.78,315.25 L97.12,314.91 L97.45,314.56 L97.77,314.20 L98.08,313.83 L98.38,313.45 L98.67,313.06 L98.95,312.66 L99.22,312.26 L99.48,311.85 L99.74,311.44 L99.98,311.03 L100.22,310.60 L100.45,310.18 L100.67,309.75 L100.88,309.32 L101.08,308.88 L101.28,308.45 L101.47,308.00 L101.65,307.56 L101.82,307.11 L101.99,306.66 L102.15,306.20 L102.31,305.75 L102.46,305.29 L102.60,304.82 L102.74,304.36 L102.87,303.89 L103.00,303.42 L103.12,302.95 L103.24,302.48 L103.36,302.00 L103.47,301.52 L103.58,301.04 L103.68,300.56 L103.78,300.08 L103.87,299.60 L103.97,299.11 L104.06,298.63 L104.15,298.14 L104.23,297.66 L104.31,297.17 L104.40,296.68 L104.48,296.19 L104.56,295.70 L104.63,295.21 L104.71,294.72 L104.79,294.23 L104.86,293.74 L104.94,293.25 L105.01,292.76 L105.09,292.27 L105.16,291.79 L105.24,291.30 L105.32,290.81 L105.40,290.33 L105.47,289.84 L105.55,289.35 L105.63,288.87 L105.71,288.39 L105.80,287.90 L105.88,287.42 L105.96,286.94 L106.04,286.46 L106.12,285.97 L106.21,285.49 L106.29,285.01 L106.38,284.53 L106.46,284.05 L106.54,283.57 L106.63,283.09 L106.71,282.61 L106.80,282.14 L106.88,281.66 L106.97,281.18 L107.05,280.70 L107.14,280.22 L107.22,279.74 L107.31,279.27 L107.39,278.79 L107.48,278.31 L107.56,277.83 L107.65,277.36 L107.73,276.88 L107.81,276.40 L107.90,275.92 L107.98,275.45 L108.06,274.97 L108.15,274.49 L108.23,274.01 L108.31,273.53 L108.39,273.06 L108.47,272.58 L108.55,272.10 L108.63,271.62 L108.71,271.14 L108.79,270.66 L108.87,270.18 L108.94,269.70 L109.02,269.22 L109.09,268.74 L109.17,268.26 L109.24,267.78 L109.32,267.29 L109.39,266.81 L109.47,266.33 L109.54,265.85 L109.61,265.37 L109.68,264.88 L109.75,264.40 L109.83,263.92 L109.90,263.44 L109.97,262.95 L110.04,262.47 L110.10,261.99 L110.17,261.50 L110.24,261.02 L110.31,260.53 L110.38,260.05 L110.44,259.56 L110.51,259.08 L110.58,258.60 L110.64,258.11 L110.71,257.63 L110.77,257.14 L110.84,256.66 L110.90,256.17 L110.97,255.69 L111.03,255.20 L111.09,254.71 L111.16,254.23 L111.22,253.74 L111.28,253.26 L111.35,252.77 L111.41,252.28 L111.47,251.80 L111.53,251.31 L111.59,250.83 L111.65,250.34 L111.71,249.85 L111.78,249.37 L111.84,248.88 L111.90,248.39 L111.96,247.91 L112.02,247.42 L112.08,246.93 L112.14,246.45 L112.19,245.96 L112.25,245.48 L112.31,244.99 L112.37,244.50 L112.43,244.02 L112.49,243.53 L112.55,243.04 L112.61,242.56 L112.67,242.07 L112.72,241.58 L112.78,241.10 L112.84,240.61 L112.90,240.12 L112.96,239.64 L113.02,239.15 L113.07,238.67 L113.13,238.18 L113.19,237.69 L113.25,237.21 L113.31,236.72 L113.36,236.24 L113.42,235.75 L113.48,235.26 L113.54,234.78 L113.60,234.29 L113.66,233.81 L113.71,233.32 L113.77,232.84 L113.83,232.35 L113.89,231.87 L113.95,231.38 L114.01,230.90 L114.07,230.41 L114.13,229.93 L114.19,229.45 L114.25,228.96 L114.31,228.48 L114.37,227.99 L114.43,227.51 L114.49,227.03 L114.55,226.54 L114.61,226.06 L114.68,225.58 L114.74,225.09 L114.80,224.61 L114.87,224.13 L114.93,223.64 L115.00,223.16 L115.07,222.68 L115.13,222.20 L115.20,221.71 L115.27,221.23 L115.34,220.75 L115.41,220.27 L115.48,219.79 L115.55,219.30 L115.62,218.82 L115.70,218.34 L115.77,217.86 L115.84,217.38 L115.92,216.90 L116.00,216.42 L116.07,215.93 L116.15,215.45 L116.23,214.97 L116.31,214.49 L116.40,214.01 L116.48,213.53 L116.56,213.05 L116.65,212.57 L116.74,212.09 L116.82,211.61 L116.91,211.13 L117.00,210.65 L117.09,210.17 L117.19,209.69 L117.28,209.21 L117.38,208.73 L117.47,208.25 L117.57,207.77 L117.67,207.30 L117.77,206.82 L117.88,206.34 L117.98,205.86 L118.09,205.38 L118.19,204.90 L118.30,204.42 L118.41,203.95 L118.53,203.47 L118.64,202.99 L118.75,202.51 L118.87,202.03 L118.99,201.56 L119.11,201.08 L119.23,200.60 L119.36,200.13 L119.49,199.65 L119.61,199.17 L119.74,198.69 L119.88,198.22 L120.01,197.74 L120.15,197.26 L120.28,196.79 L120.42,196.31 L120.57,195.84 L120.71,195.36 L120.86,194.88 L121.00,194.41 L121.15,193.93 L121.31,193.46 L121.46,192.98 L121.62,192.51 L121.78,192.03 L121.94,191.56 L122.11,191.10 L122.28,190.67 L122.47,190.28 L122.67,189.96 L122.88,189.73 L123.12,189.59 L123.38,189.56 L123.66,189.67 L123.98,189.91 L124.30,190.27 L124.63,190.70 L124.94,191.19 L125.23,191.71 L125.49,192.23 L125.72,192.75 L125.92,193.26 L126.09,193.77 L126.25,194.27 L126.39,194.77 L126.52,195.26 L126.64,195.75 L126.76,196.23 L126.87,196.71 L126.98,197.18 L127.08,197.65 L127.18,198.12 L127.27,198.59 L127.37,199.06 L127.47,199.52 L127.56,199.99 L127.66,200.46 L127.76,200.93 L127.85,201.40 L127.95,201.87 L128.04,202.35 L128.14,202.82 L128.23,203.29 L128.33,203.76 L128.42,204.24 L128.52,204.71 L128.62,205.19 L128.71,205.66 L128.81,206.14 L128.90,206.61 L128.99,207.09 L129.09,207.57 L129.18,208.04 L129.28,208.52 L129.37,209.00 L129.47,209.48 L129.56,209.96 L129.65,210.44 L129.75,210.92 L129.84,211.40 L129.93,211.88 L130.02,212.36 L130.12,212.84 L130.21,213.32 L130.30,213.80 L130.39,214.28 L130.48,214.76 L130.58,215.24 L130.67,215.73 L130.76,216.21 L130.85,216.69 L130.94,217.17 L131.03,217.65 L131.12,218.14 L131.21,218.62 L131.29,219.10 L131.38,219.59 L131.47,220.07 L131.56,220.55 L131.65,221.04 L131.73,221.52 L131.82,222.00 L131.91,222.48 L131.99,222.97 L132.08,223.45 L132.16,223.93 L132.25,224.42 L132.33,224.90 L132.41,225.38 L132.50,225.87 L132.58,226.35 L132.66,226.83 L132.75,227.31 L132.83,227.80 L132.91,228.28 L132.99,228.76 L133.07,229.25 L133.15,229.73 L133.23,230.21 L133.31,230.69 L133.39,231.18 L133.47,231.66 L133.55,232.14 L133.63,232.62 L133.70,233.11 L133.78,233.59 L133.86,234.07 L133.94,234.55 L134.01,235.03 L134.09,235.52 L134.16,236.00 L134.24,236.48 L134.31,236.96 L134.39,237.45 L134.46,237.93 L134.54,238.41 L134.61,238.89 L134.68,239.38 L134.76,239.86 L134.83,240.34 L134.90,240.82 L134.97,241.31 L135.05,241.79 L135.12,242.27 L135.19,242.75 L135.26,243.24 L135.33,243.72 L135.40,244.20 L135.47,244.68 L135.54,245.17 L135.61,245.65 L135.68,246.13 L135.75,246.61 L135.81,247.10 L135.88,247.58 L135.95,248.06 L136.02,248.55 L136.08,249.03 L136.15,249.51 L136.22,249.99 L136.28,250.48 L136.35,250.96 L136.42,251.44 L136.48,251.93 L136.55,252.41 L136.61,252.89 L136.68,253.38 L136.74,253.86 L136.80,254.34 L136.87,254.83 L136.93,255.31 L137.00,255.80 L137.06,256.28 L137.12,256.76 L137.18,257.25 L137.25,257.73 L137.31,258.22 L137.37,258.70 L137.43,259.18 L137.50,259.67 L137.56,260.15 L137.62,260.64 L137.68,261.12 L137.74,261.61 L137.80,262.09 L137.86,262.58 L137.92,263.06 L137.98,263.55 L138.04,264.03 L138.10,264.52 L138.16,265.00 L138.22,265.48 L138.28,265.97 L138.34,266.45 L138.40,266.94 L138.46,267.42 L138.52,267.91 L138.58,268.40 L138.64,268.88 L138.70,269.37 L138.76,269.85 L138.82,270.34 L138.88,270.82 L138.93,271.31 L138.99,271.79 L139.05,272.28 L139.11,272.76 L139.17,273.25 L139.23,273.73 L139.29,274.22 L139.34,274.71 L139.40,275.19 L139.46,275.68 L139.52,276.16 L139.58,276.65 L139.64,277.13 L139.70,277.62 L139.75,278.10 L139.81,278.59 L139.87,279.08 L139.93,279.56 L139.99,280.05 L140.05,280.53 L140.11,281.02 L140.17,281.50 L140.22,281.99 L140.28,282.48 L140.34,282.96 L140.40,283.45 L140.46,283.93 L140.52,284.42 L140.58,284.90 L140.64,285.39 L140.70,285.88 L140.76,286.36 L140.82,286.85 L140.89,287.33 L140.95,287.82 L141.01,288.30 L141.08,288.79 L141.14,289.27 L141.21,289.76 L141.28,290.24 L141.35,290.72 L141.42,291.21 L141.50,291.69 L141.57,292.17 L141.65,292.65 L141.73,293.14 L141.81,293.62 L141.90,294.10 L141.98,294.58 L142.07,295.06 L142.17,295.54 L142.26,296.02 L142.36,296.49 L142.46,296.97 L142.56,297.45 L142.67,297.92 L142.78,298.40 L142.89,298.88 L143.01,299.35 L143.13,299.82 L143.26,300.30 L143.39,300.77 L143.52,301.24 L143.65,301.71 L143.80,302.18 L143.94,302.65 L144.09,303.11 L144.24,303.58 L144.40,304.05 L144.57,304.51 L144.73,304.97 L144.91,305.44 L145.09,305.90 L145.27,306.36 L145.46,306.82 L145.65,307.27 L145.85,307.73 L146.06,308.18 L146.27,308.63 L146.49,309.07 L146.72,309.51 L146.95,309.94 L147.19,310.37 L147.44,310.80 L147.69,311.21 L147.95,311.62 L148.22,312.03 L148.50,312.42 L148.79,312.81 L149.08,313.19 L149.38,313.55 L149.69,313.91 L150.02,314.26 L150.35,314.60 L150.69,314.92 L151.03,315.24 L151.39,315.54 L151.76,315.83 L152.14,316.10 L152.53,316.37 L152.93,316.62 L153.34,316.85 L153.77,317.07 L154.20,317.27 L154.64,317.45 L155.10,317.62 L155.57,317.78 L156.05,317.91 L156.54,318.03 L157.05,318.12 L157.56,318.20 L158.09,318.27 L158.62,318.32 L159.16,318.36 L159.69,318.40 L160.23,318.43 L160.76,318.46 L161.28,318.49 L161.79,318.52 L162.30,318.55 L162.79,318.60 L163.26,318.65 L163.71,318.72 L164.14,318.80 L164.54,318.90 L164.92,319.02" fill="none" stroke="#0000ff" stroke-width="1.50" stroke-dasharray="4.3 1.9" stroke-dashoffset="0.46" stroke-linecap="butt" clip-path="url(#cA3)"/>
<path d="M45.97,318.59 L46.38,318.60 L46.80,318.62 L47.22,318.63 L47.64,318.65 L48.07,318.66 L48.49,318.68 L48.92,318.69 L49.35,318.71 L49.78,318.72 L50.21,318.73 L50.64,318.75 L51.07,318.76 L51.50,318.76 L51.94,318.77 L52.37,318.78 L52.81,318.78 L53.24,318.78 L53.67,318.78 L54.11,318.77 L54.54,318.76 L54.97,318.75 L55.41,318.74 L55.84,318.72 L56.27,318.69 L56.70,318.67 L57.12,318.63 L57.55,318.60 L57.98,318.56 L58.40,318.51 L58.82,318.46 L59.24,318.40 L59.66,318.34 L60.07,318.27 L60.49,318.19 L60.90,318.11 L61.31,318.02 L61.71,317.92 L62.11,317.82 L62.51,317.71 L62.91,317.59 L63.30,317.47 L63.69,317.33 L64.07,317.19 L64.45,317.04 L64.83,316.88 L65.20,316.71 L65.57,316.54 L65.94,316.35 L66.30,316.16 L66.66,315.97 L67.02,315.76 L67.37,315.55 L67.72,315.33 L68.07,315.11 L68.41,314.88 L68.75,314.64 L69.08,314.40 L69.41,314.15 L69.74,313.89 L70.07,313.63 L70.39,313.37 L70.71,313.09 L71.03,312.82 L71.34,312.54 L71.65,312.25 L71.96,311.96 L72.26,311.67 L72.56,311.37 L72.86,311.07 L73.16,310.77 L73.45,310.46 L73.74,310.15 L74.03,309.83 L74.32,309.51 L74.60,309.19 L74.88,308.87 L75.16,308.54 L75.43,308.21 L75.70,307.88 L75.97,307.55 L76.24,307.22 L76.51,306.88 L76.77,306.55 L77.03,306.21 L77.29,305.87 L77.55,305.53 L77.80,305.19 L78.05,304.85 L78.30,304.50 L78.55,304.16 L78.80,303.81 L79.04,303.47 L79.29,303.12 L79.53,302.77 L79.77,302.42 L80.01,302.07 L80.25,301.72 L80.49,301.36 L80.72,301.01 L80.96,300.66 L81.19,300.30 L81.42,299.95 L81.65,299.59 L81.88,299.24 L82.11,298.88 L82.34,298.52 L82.57,298.17 L82.80,297.81 L83.03,297.45 L83.25,297.09 L83.48,296.74 L83.71,296.38 L83.93,296.02 L84.16,295.66 L84.38,295.30 L84.61,294.95 L84.83,294.59 L85.06,294.23 L85.29,293.87 L85.51,293.52 L85.74,293.16 L85.97,292.80 L86.19,292.45 L86.42,292.09 L86.65,291.73 L86.88,291.38 L87.11,291.02 L87.34,290.67 L87.57,290.32 L87.80,289.97 L88.04,289.61 L88.27,289.26 L88.51,288.91 L88.74,288.56 L88.98,288.22 L89.22,287.87 L89.46,287.52 L89.70,287.18 L89.95,286.83 L90.19,286.49 L90.44,286.15 L90.69,285.81 L90.94,285.47 L91.19,285.13 L91.44,284.79 L91.70,284.46 L91.96,284.12 L92.22,283.79 L92.48,283.46 L92.75,283.13 L93.01,282.80 L93.28,282.48 L93.55,282.16 L93.83,281.83 L94.11,281.51 L94.39,281.19 L94.67,280.88 L94.96,280.56 L95.24,280.25 L95.54,279.94 L95.83,279.63 L96.13,279.33 L96.43,279.02 L96.73,278.72 L97.04,278.42 L97.35,278.12 L97.66,277.83 L97.98,277.53 L98.30,277.24 L98.63,276.96 L98.96,276.67 L99.29,276.39 L99.62,276.11 L99.96,275.84 L100.30,275.57 L100.65,275.30 L100.99,275.04 L101.34,274.78 L101.69,274.52 L102.05,274.27 L102.41,274.03 L102.77,273.79 L103.13,273.56 L103.49,273.33 L103.86,273.10 L104.23,272.89 L104.60,272.67 L104.98,272.47 L105.35,272.27 L105.73,272.08 L106.11,271.89 L106.49,271.71 L106.87,271.54 L107.26,271.38 L107.64,271.22 L108.03,271.08 L108.42,270.94 L108.80,270.81 L109.20,270.68 L109.59,270.57 L109.98,270.46 L110.37,270.37 L110.77,270.28 L111.16,270.20 L111.56,270.13 L111.95,270.07 L112.35,270.03 L112.75,269.99 L113.14,269.96 L113.54,269.94 L113.94,269.94 L114.34,269.94 L114.73,269.96 L115.13,269.99 L115.53,270.02 L115.93,270.08 L116.32,270.14 L116.72,270.21 L117.11,270.30 L117.51,270.39 L117.91,270.50 L118.30,270.62 L118.69,270.74 L119.09,270.87 L119.48,271.02 L119.87,271.17 L120.26,271.33 L120.65,271.49 L121.04,271.67 L121.42,271.85 L121.81,272.04 L122.19,272.23 L122.57,272.43 L122.95,272.63 L123.33,272.84 L123.71,273.05 L124.09,273.27 L124.46,273.49 L124.84,273.72 L125.21,273.94 L125.58,274.17 L125.94,274.41 L126.31,274.64 L126.67,274.88 L127.03,275.11 L127.39,275.36 L127.75,275.60 L128.11,275.84 L128.46,276.09 L128.82,276.34 L129.17,276.59 L129.52,276.84 L129.87,277.09 L130.21,277.34 L130.56,277.60 L130.90,277.85 L131.25,278.11 L131.59,278.37 L131.93,278.63 L132.27,278.89 L132.60,279.15 L132.94,279.42 L133.28,279.68 L133.61,279.94 L133.95,280.21 L134.28,280.48 L134.61,280.74 L134.94,281.01 L135.27,281.28 L135.60,281.54 L135.93,281.81 L136.25,282.08 L136.58,282.35 L136.91,282.62 L137.23,282.89 L137.56,283.17 L137.88,283.44 L138.20,283.71 L138.53,283.98 L138.85,284.26 L139.17,284.53 L139.49,284.80 L139.81,285.08 L140.13,285.35 L140.45,285.62 L140.77,285.90 L141.09,286.17 L141.41,286.45 L141.73,286.72 L142.05,287.00 L142.37,287.27 L142.68,287.55 L143.00,287.82 L143.32,288.10 L143.64,288.37 L143.95,288.65 L144.27,288.92 L144.59,289.20 L144.90,289.47 L145.22,289.75 L145.54,290.02 L145.86,290.30 L146.18,290.57 L146.49,290.85 L146.81,291.12 L147.13,291.39 L147.45,291.67 L147.77,291.94 L148.09,292.21 L148.41,292.48 L148.73,292.75 L149.05,293.03 L149.37,293.30 L149.69,293.57 L150.01,293.84 L150.33,294.11 L150.65,294.37 L150.98,294.64 L151.30,294.91 L151.63,295.18 L151.95,295.44 L152.28,295.71 L152.60,295.97 L152.93,296.24 L153.26,296.50 L153.59,296.76 L153.92,297.02 L154.25,297.28 L154.58,297.54 L154.91,297.80 L155.25,298.06 L155.58,298.32 L155.92,298.57 L156.25,298.83 L156.59,299.08 L156.93,299.34 L157.27,299.59 L157.61,299.84 L157.96,300.09 L158.30,300.34 L158.64,300.58 L158.99,300.83 L159.34,301.08 L159.68,301.32 L160.03,301.56 L160.38,301.81 L160.73,302.05 L161.08,302.29 L161.44,302.52 L161.79,302.76 L162.14,303.00 L162.50,303.23 L162.86,303.46 L163.21,303.69 L163.57,303.92 L163.93,304.15 L164.29,304.38 L164.65,304.61 L165.01,304.83 L165.38,305.05 L165.74,305.27 L166.11,305.49 L166.47,305.71 L166.84,305.93 L167.21,306.14 L167.58,306.36 L167.94,306.57 L168.32,306.78 L168.69,306.99 L169.06,307.20 L169.43,307.40 L169.80,307.61 L170.18,307.81 L170.55,308.01 L170.93,308.21 L171.31,308.40 L171.68,308.60 L172.06,308.79 L172.44,308.98 L172.82,309.17 L173.20,309.36 L173.58,309.55 L173.97,309.73 L174.35,309.91 L174.73,310.09 L175.12,310.27 L175.50,310.45 L175.89,310.62 L176.28,310.80 L176.66,310.97 L177.05,311.13 L177.44,311.30 L177.83,311.47 L178.22,311.63 L178.61,311.79 L179.00,311.95 L179.39,312.10 L179.79,312.25 L180.18,312.41 L180.57,312.55 L180.97,312.70 L181.36,312.85 L181.76,312.99 L182.15,313.13 L182.55,313.27 L182.95,313.40 L183.35,313.54 L183.75,313.67 L184.15,313.80 L184.54,313.93 L184.95,314.05 L185.35,314.17 L185.75,314.29 L186.15,314.41 L186.55,314.53 L186.96,314.65 L187.36,314.76 L187.76,314.87 L188.17,314.98 L188.57,315.09 L188.98,315.19 L189.39,315.29 L189.79,315.40 L190.20,315.50 L190.61,315.59 L191.01,315.69 L191.42,315.78 L191.83,315.88 L192.24,315.97 L192.65,316.06 L193.06,316.14 L193.47,316.23 L193.88,316.31 L194.30,316.39 L194.71,316.47 L195.12,316.55 L195.53,316.63 L195.95,316.70 L196.36,316.78 L196.78,316.85 L197.19,316.92 L197.61,316.99 L198.02,317.05 L198.44,317.12 L198.85,317.18 L199.27,317.25 L199.69,317.31 L200.10,317.37 L200.52,317.42 L200.94,317.48 L201.36,317.54 L201.78,317.59 L202.20,317.64 L202.61,317.69 L203.03,317.74 L203.45,317.79 L203.87,317.84 L204.29,317.88 L204.72,317.93 L205.14,317.97 L205.56,318.01 L205.98,318.05 L206.40,318.09 L206.82,318.13 L207.25,318.17 L207.67,318.20 L208.09,318.24 L208.52,318.27 L208.94,318.30 L209.36,318.33 L209.79,318.36 L210.21,318.39 L210.63,318.42 L211.06,318.45 L211.48,318.47 L211.91,318.50 L212.33,318.52 L212.76,318.55 L213.18,318.57 L213.61,318.59 L214.04,318.61 L214.46,318.63 L214.89,318.65 L215.31,318.66 L215.74,318.68 L216.17,318.70 L216.59,318.71 L217.02,318.72 L217.45,318.74 L217.88,318.75 L218.30,318.76 L218.73,318.77 L219.16,318.78 L219.59,318.79 L220.01,318.80 L220.44,318.81 L220.87,318.82 L221.30,318.82 L221.72,318.83 L222.15,318.83 L222.58,318.84 L223.01,318.84 L223.44,318.85 L223.87,318.85 L224.29,318.85 L224.72,318.85 L225.15,318.85 L225.58,318.86 L226.01,318.86 L226.44,318.86 L226.86,318.86 L227.29,318.86 L227.72,318.85 L228.15,318.85 L228.58,318.85 L229.01,318.85 L229.43,318.85 L229.86,318.84 L230.29,318.84 L230.72,318.84 L231.15,318.83 L231.58,318.83 L232.00,318.82 L232.43,318.82 L232.86,318.82 L233.29,318.81 L233.72,318.81 L234.14,318.80 L234.57,318.79 L235.00,318.79 L235.43,318.78 L235.85,318.78 L236.28,318.77 L236.71,318.77 L237.13,318.76 L237.56,318.75 L237.99,318.75 L238.41,318.74 L238.84,318.74 L239.27,318.73 L239.69,318.73 L240.12,318.72 L240.54,318.71 L240.97,318.71 L241.39,318.70 L241.82,318.70 L242.24,318.69 L242.67,318.69 L243.09,318.68 L243.52,318.68 L243.94,318.67 L244.36,318.67 L244.79,318.67 L245.21,318.66 L245.63,318.66 L246.06,318.66 L246.48,318.65 L246.90,318.65 L247.32,318.65 L247.75,318.65 L248.17,318.65 L248.59,318.65 L249.01,318.65 L249.43,318.65 L249.85,318.65 L250.27,318.65 L250.69,318.65 L251.11,318.65 L251.53,318.65 L251.95,318.66 L252.37,318.66 L252.78,318.67 L253.20,318.67 L253.62,318.68 L254.04,318.68 L254.45,318.69 L254.87,318.70 L255.29,318.70 L255.70,318.71 L256.12,318.72 L256.53,318.73 L256.95,318.74 L257.36,318.76 L257.77,318.77 L258.19,318.78 L258.60,318.79 L259.01,318.81 L259.43,318.83 L259.84,318.84 L260.25,318.86 L260.66,318.88 L261.07,318.90 L261.48,318.92 L261.89,318.94 L262.30,318.96 L262.71,318.98 L263.11,319.01 L263.52,319.03 L263.93,319.06" fill="none" stroke="#ff0000" stroke-width="1.50" stroke-linecap="butt" clip-path="url(#cA3)"/>
<rect x="36.85" y="182.50" width="238.90" height="136.50" fill="none" stroke="#000" stroke-width="0.95"/>
<path d="M50.00,319.00v2.60M91.30,319.00v2.60M132.60,319.00v2.60M173.90,319.00v2.60M215.20,319.00v2.60M256.50,319.00v2.60M36.85,318.90h-2.60M36.85,277.73h-2.60M36.85,236.56h-2.60M36.85,195.39h-2.60" stroke="#000" stroke-width="0.95" fill="none"/>
<text x="50.00" y="333.00" text-anchor="middle">0.0</text>
<text x="91.30" y="333.00" text-anchor="middle">0.5</text>
<text x="132.60" y="333.00" text-anchor="middle">1.0</text>
<text x="173.90" y="333.00" text-anchor="middle">1.5</text>
<text x="215.20" y="333.00" text-anchor="middle">2.0</text>
<text x="256.50" y="333.00" text-anchor="middle">2.5</text>
<text x="31.35" y="323.20" text-anchor="end">0</text>
<text x="31.35" y="282.03" text-anchor="end">1</text>
<text x="31.35" y="240.86" text-anchor="end">2</text>
<text x="31.35" y="199.69" text-anchor="end">3</text>
<text x="156.30" y="345.60" text-anchor="middle">P1022</text>
<text transform="translate(20.60,250.75) rotate(-90)" text-anchor="middle">Density</text>
</g>
<g>
<clipPath id="cA4"><rect x="307.00" y="180.50" width="238.90" height="138.50"/></clipPath>
<path d="M352.02,318.95 L352.54,318.91 L353.07,318.86 L353.60,318.80 L354.12,318.74 L354.64,318.68 L355.17,318.61 L355.69,318.53 L356.21,318.46 L356.73,318.38 L357.24,318.29 L357.76,318.21 L358.28,318.12 L358.80,318.02 L359.31,317.92 L359.83,317.82 L360.35,317.72 L360.86,317.61 L361.38,317.50 L361.90,317.39 L362.41,317.27 L362.93,317.15 L363.45,317.03 L363.96,316.91 L364.48,316.78 L365.00,316.65 L365.52,316.52 L366.04,316.39 L366.56,316.26 L367.09,316.12 L367.61,315.99 L368.14,315.85 L368.66,315.71 L369.19,315.56 L369.72,315.42 L370.25,315.27 L370.78,315.12 L371.30,314.97 L371.82,314.80 L372.33,314.63 L372.84,314.44 L373.34,314.25 L373.82,314.04 L374.30,313.82 L374.76,313.58 L375.20,313.33 L375.63,313.05 L376.05,312.76 L376.44,312.44 L376.81,312.10 L377.16,311.74 L377.49,311.35 L377.80,310.95 L378.10,310.52 L378.38,310.08 L378.65,309.63 L378.91,309.17 L379.17,308.71 L379.42,308.24 L379.67,307.78 L379.92,307.31 L380.17,306.84 L380.42,306.37 L380.67,305.90 L380.91,305.43 L381.15,304.95 L381.40,304.48 L381.64,304.01 L381.88,303.53 L382.11,303.06 L382.35,302.58 L382.58,302.10 L382.82,301.62 L383.05,301.15 L383.28,300.67 L383.50,300.19 L383.73,299.71 L383.96,299.22 L384.18,298.74 L384.40,298.26 L384.62,297.77 L384.84,297.29 L385.06,296.80 L385.28,296.32 L385.49,295.83 L385.70,295.34 L385.91,294.85 L386.12,294.37 L386.33,293.88 L386.54,293.39 L386.74,292.89 L386.95,292.40 L387.15,291.91 L387.35,291.42 L387.55,290.92 L387.75,290.43 L387.94,289.94 L388.14,289.44 L388.33,288.95 L388.52,288.45 L388.71,287.95 L388.90,287.45 L389.08,286.96 L389.27,286.46 L389.45,285.96 L389.63,285.46 L389.81,284.96 L389.99,284.46 L390.17,283.96 L390.34,283.45 L390.51,282.95 L390.69,282.45 L390.86,281.95 L391.03,281.44 L391.19,280.94 L391.36,280.43 L391.52,279.93 L391.68,279.42 L391.84,278.92 L392.00,278.41 L392.16,277.90 L392.32,277.39 L392.47,276.89 L392.62,276.38 L392.77,275.87 L392.92,275.36 L393.07,274.85 L393.22,274.34 L393.36,273.83 L393.50,273.32 L393.64,272.81 L393.78,272.30 L393.92,271.79 L394.06,271.27 L394.19,270.76 L394.32,270.25 L394.45,269.74 L394.58,269.22 L394.71,268.71 L394.84,268.19 L394.96,267.68 L395.09,267.17 L395.21,266.65 L395.33,266.14 L395.45,265.62 L395.57,265.10 L395.68,264.59 L395.80,264.07 L395.91,263.56 L396.03,263.04 L396.14,262.52 L396.25,262.01 L396.36,261.49 L396.47,260.97 L396.58,260.45 L396.69,259.94 L396.80,259.42 L396.91,258.90 L397.01,258.38 L397.12,257.86 L397.23,257.35 L397.33,256.83 L397.44,256.31 L397.54,255.79 L397.65,255.27 L397.75,254.75 L397.85,254.23 L397.96,253.71 L398.06,253.20 L398.17,252.68 L398.27,252.16 L398.38,251.64 L398.48,251.12 L398.59,250.60 L398.69,250.08 L398.80,249.56 L398.90,249.04 L399.01,248.52 L399.11,248.00 L399.22,247.49 L399.33,246.97 L399.44,246.45 L399.55,245.93 L399.65,245.41 L399.76,244.89 L399.87,244.37 L399.98,243.85 L400.09,243.33 L400.20,242.81 L400.31,242.30 L400.43,241.78 L400.54,241.26 L400.65,240.74 L400.76,240.22 L400.87,239.70 L400.98,239.18 L401.10,238.66 L401.21,238.14 L401.32,237.63 L401.43,237.11 L401.55,236.59 L401.66,236.07 L401.77,235.55 L401.89,235.03 L402.00,234.51 L402.11,234.00 L402.23,233.48 L402.34,232.96 L402.45,232.44 L402.57,231.92 L402.68,231.40 L402.79,230.89 L402.91,230.37 L403.02,229.85 L403.13,229.33 L403.24,228.81 L403.36,228.29 L403.47,227.78 L403.58,227.26 L403.69,226.74 L403.81,226.22 L403.92,225.70 L404.03,225.18 L404.14,224.67 L404.25,224.15 L404.36,223.63 L404.47,223.11 L404.58,222.59 L404.69,222.08 L404.80,221.56 L404.91,221.04 L405.02,220.52 L405.13,220.00 L405.24,219.49 L405.34,218.97 L405.45,218.45 L405.56,217.93 L405.67,217.42 L405.77,216.90 L405.88,216.38 L405.98,215.86 L406.09,215.34 L406.19,214.83 L406.29,214.31 L406.40,213.79 L406.50,213.27 L406.61,212.76 L406.71,212.24 L406.82,211.72 L406.93,211.20 L407.04,210.69 L407.14,210.17 L407.26,209.65 L407.37,209.14 L407.48,208.62 L407.60,208.10 L407.71,207.59 L407.83,207.07 L407.95,206.55 L408.08,206.04 L408.20,205.52 L408.33,205.01 L408.46,204.49 L408.60,203.97 L408.73,203.46 L408.87,202.94 L409.02,202.43 L409.16,201.91 L409.32,201.40 L409.47,200.89 L409.63,200.37 L409.79,199.86 L409.96,199.34 L410.13,198.83 L410.30,198.32 L410.48,197.80 L410.67,197.29 L410.86,196.78 L411.05,196.26 L411.25,195.75 L411.46,195.24 L411.67,194.73 L411.88,194.22 L412.11,193.71 L412.33,193.20 L412.57,192.69 L412.81,192.19 L413.07,191.70 L413.33,191.23 L413.61,190.79 L413.91,190.38 L414.22,190.01 L414.55,189.68 L414.90,189.39 L415.27,189.16 L415.66,188.98 L416.07,188.86 L416.48,188.79 L416.91,188.78 L417.34,188.83 L417.77,188.94 L418.21,189.10 L418.64,189.30 L419.07,189.55 L419.50,189.85 L419.91,190.17 L420.32,190.54 L420.71,190.93 L421.09,191.34 L421.45,191.78 L421.79,192.23 L422.10,192.70 L422.40,193.18 L422.67,193.67 L422.92,194.17 L423.15,194.67 L423.36,195.18 L423.56,195.69 L423.74,196.21 L423.91,196.73 L424.08,197.25 L424.24,197.78 L424.39,198.31 L424.53,198.83 L424.68,199.36 L424.83,199.88 L424.97,200.41 L425.11,200.93 L425.26,201.45 L425.40,201.97 L425.54,202.49 L425.68,203.00 L425.82,203.52 L425.96,204.04 L426.09,204.55 L426.23,205.07 L426.36,205.58 L426.50,206.09 L426.63,206.60 L426.76,207.12 L426.89,207.63 L427.02,208.14 L427.15,208.65 L427.28,209.16 L427.41,209.67 L427.53,210.18 L427.66,210.69 L427.78,211.20 L427.90,211.71 L428.02,212.21 L428.14,212.72 L428.26,213.23 L428.38,213.74 L428.50,214.25 L428.61,214.76 L428.73,215.27 L428.84,215.78 L428.95,216.29 L429.06,216.80 L429.17,217.32 L429.28,217.83 L429.38,218.34 L429.49,218.85 L429.59,219.37 L429.69,219.88 L429.80,220.40 L429.90,220.92 L429.99,221.43 L430.09,221.95 L430.19,222.47 L430.28,222.99 L430.37,223.52 L430.47,224.04 L430.56,224.56 L430.65,225.09 L430.74,225.61 L430.83,226.14 L430.91,226.66 L431.00,227.19 L431.09,227.72 L431.17,228.25 L431.26,228.77 L431.34,229.30 L431.43,229.83 L431.51,230.36 L431.59,230.89 L431.68,231.42 L431.76,231.95 L431.84,232.48 L431.93,233.01 L432.01,233.54 L432.10,234.07 L432.18,234.60 L432.27,235.13 L432.35,235.66 L432.44,236.19 L432.53,236.72 L432.61,237.25 L432.70,237.78 L432.79,238.31 L432.88,238.84 L432.97,239.36 L433.06,239.89 L433.16,240.42 L433.25,240.94 L433.35,241.47 L433.44,241.99 L433.54,242.52 L433.64,243.04 L433.74,243.56 L433.85,244.08 L433.95,244.60 L434.06,245.12 L434.17,245.64 L434.28,246.15 L434.39,246.67 L434.51,247.18 L434.62,247.70 L434.74,248.21 L434.87,248.72 L434.99,249.23 L435.12,249.74 L435.24,250.24 L435.37,250.75 L435.50,251.25 L435.64,251.76 L435.77,252.26 L435.91,252.77 L436.04,253.27 L436.18,253.77 L436.32,254.27 L436.46,254.77 L436.60,255.27 L436.75,255.77 L436.89,256.27 L437.03,256.77 L437.17,257.27 L437.32,257.77 L437.46,258.27 L437.61,258.77 L437.75,259.27 L437.90,259.77 L438.04,260.28 L438.18,260.78 L438.33,261.28 L438.47,261.78 L438.61,262.29 L438.75,262.79 L438.89,263.30 L439.03,263.81 L439.17,264.31 L439.31,264.82 L439.44,265.33 L439.57,265.85 L439.71,266.36 L439.84,266.87 L439.97,267.39 L440.10,267.91 L440.22,268.43 L440.35,268.95 L440.48,269.47 L440.60,269.99 L440.72,270.51 L440.85,271.03 L440.97,271.56 L441.09,272.08 L441.21,272.61 L441.34,273.13 L441.46,273.66 L441.58,274.19 L441.70,274.71 L441.82,275.24 L441.94,275.77 L442.06,276.30 L442.18,276.82 L442.30,277.35 L442.43,277.88 L442.55,278.41 L442.67,278.93 L442.80,279.46 L442.92,279.99 L443.05,280.52 L443.18,281.04 L443.30,281.57 L443.43,282.09 L443.57,282.62 L443.70,283.14 L443.83,283.67 L443.97,284.19 L444.10,284.71 L444.24,285.23 L444.38,285.75 L444.53,286.27 L444.67,286.79 L444.82,287.30 L444.97,287.82 L445.12,288.33 L445.27,288.85 L445.43,289.36 L445.59,289.87 L445.75,290.38 L445.91,290.88 L446.08,291.39 L446.25,291.89 L446.43,292.39 L446.60,292.89 L446.78,293.39 L446.96,293.88 L447.15,294.38 L447.34,294.87 L447.53,295.36 L447.73,295.84 L447.93,296.33 L448.14,296.81 L448.35,297.29 L448.56,297.76 L448.78,298.24 L449.00,298.71 L449.22,299.18 L449.45,299.64 L449.69,300.11 L449.93,300.57 L450.17,301.03 L450.42,301.48 L450.68,301.93 L450.93,302.38 L451.20,302.82 L451.47,303.26 L451.74,303.70 L452.02,304.14 L452.30,304.57 L452.60,304.99 L452.89,305.42 L453.19,305.84 L453.50,306.25 L453.81,306.67 L454.13,307.08 L454.46,307.48 L454.79,307.88 L455.13,308.28 L455.47,308.67 L455.82,309.06 L456.18,309.44 L456.54,309.82 L456.91,310.20 L457.29,310.57 L457.68,310.93 L458.07,311.29 L458.47,311.65 L458.87,312.00 L459.28,312.35 L459.70,312.69 L460.13,313.03 L460.56,313.35 L461.00,313.67 L461.44,313.99 L461.89,314.29 L462.35,314.59 L462.81,314.88 L463.28,315.15 L463.75,315.42 L464.23,315.68 L464.71,315.92 L465.20,316.16 L465.69,316.38 L466.18,316.59 L466.68,316.79 L467.18,316.97 L467.69,317.14 L468.20,317.29 L468.71,317.43 L469.22,317.56 L469.74,317.66 L470.26,317.76 L470.78,317.83 L471.31,317.89 L471.84,317.94 L472.37,317.98 L472.90,318.01 L473.43,318.03 L473.96,318.04 L474.49,318.05 L475.03,318.06 L475.56,318.06 L476.10,318.06 L476.63,318.06 L477.17,318.06 L477.70,318.07 L478.24,318.08 L478.77,318.09 L479.30,318.11 L479.83,318.15 L480.36,318.19 L480.89,318.25 L481.41,318.31 L481.93,318.40 L482.45,318.49 L482.97,318.61 L483.49,318.75 L484.00,318.90" fill="none" stroke="#0000ff" stroke-width="1.50" stroke-dasharray="4.3 1.9" stroke-dashoffset="1.67" stroke-linecap="butt" clip-path="url(#cA4)"/>
<path d="M316.20,318.80 L316.72,318.80 L317.24,318.81 L317.75,318.81 L318.27,318.81 L318.78,318.81 L319.30,318.81 L319.81,318.81 L320.33,318.81 L320.84,318.81 L321.35,318.81 L321.86,318.81 L322.37,318.80 L322.88,318.80 L323.40,318.79 L323.91,318.79 L324.41,318.78 L324.92,318.78 L325.43,318.77 L325.94,318.76 L326.45,318.76 L326.96,318.75 L327.47,318.74 L327.98,318.73 L328.48,318.73 L328.99,318.72 L329.50,318.71 L330.01,318.70 L330.51,318.69 L331.02,318.68 L331.53,318.67 L332.04,318.66 L332.55,318.65 L333.05,318.64 L333.56,318.63 L334.07,318.62 L334.58,318.61 L335.09,318.60 L335.60,318.59 L336.11,318.58 L336.62,318.57 L337.13,318.56 L337.64,318.55 L338.15,318.54 L338.66,318.53 L339.17,318.52 L339.68,318.51 L340.20,318.51 L340.71,318.50 L341.23,318.49 L341.74,318.48 L342.25,318.47 L342.77,318.46 L343.28,318.45 L343.80,318.44 L344.31,318.42 L344.83,318.41 L345.34,318.39 L345.86,318.37 L346.37,318.34 L346.88,318.32 L347.40,318.29 L347.91,318.25 L348.42,318.21 L348.93,318.17 L349.44,318.13 L349.95,318.08 L350.46,318.02 L350.97,317.96 L351.47,317.89 L351.98,317.82 L352.48,317.74 L352.98,317.66 L353.49,317.57 L353.98,317.47 L354.48,317.36 L354.98,317.25 L355.47,317.13 L355.96,317.00 L356.46,316.87 L356.94,316.73 L357.43,316.58 L357.91,316.42 L358.40,316.26 L358.88,316.09 L359.35,315.91 L359.83,315.72 L360.30,315.53 L360.77,315.33 L361.24,315.13 L361.71,314.92 L362.17,314.70 L362.63,314.48 L363.09,314.25 L363.54,314.01 L363.99,313.77 L364.44,313.52 L364.89,313.27 L365.33,313.01 L365.77,312.75 L366.21,312.48 L366.64,312.20 L367.07,311.92 L367.50,311.63 L367.92,311.34 L368.34,311.05 L368.75,310.75 L369.17,310.44 L369.57,310.13 L369.98,309.81 L370.38,309.49 L370.78,309.17 L371.17,308.84 L371.56,308.51 L371.95,308.17 L372.33,307.83 L372.70,307.49 L373.08,307.14 L373.45,306.78 L373.81,306.42 L374.17,306.06 L374.53,305.70 L374.89,305.33 L375.24,304.96 L375.58,304.58 L375.92,304.20 L376.26,303.82 L376.59,303.43 L376.92,303.04 L377.25,302.64 L377.57,302.25 L377.89,301.85 L378.20,301.44 L378.51,301.04 L378.81,300.63 L379.11,300.21 L379.41,299.80 L379.70,299.38 L379.99,298.96 L380.27,298.54 L380.55,298.11 L380.83,297.68 L381.10,297.25 L381.37,296.82 L381.64,296.39 L381.91,295.95 L382.17,295.51 L382.44,295.08 L382.70,294.64 L382.95,294.20 L383.21,293.76 L383.47,293.31 L383.73,292.87 L383.98,292.43 L384.24,291.99 L384.49,291.55 L384.75,291.11 L385.01,290.67 L385.27,290.23 L385.52,289.79 L385.78,289.35 L386.04,288.91 L386.30,288.47 L386.56,288.03 L386.82,287.59 L387.08,287.15 L387.34,286.71 L387.60,286.27 L387.85,285.83 L388.11,285.39 L388.36,284.95 L388.61,284.51 L388.86,284.06 L389.11,283.62 L389.36,283.17 L389.60,282.72 L389.85,282.27 L390.09,281.82 L390.32,281.37 L390.56,280.92 L390.80,280.47 L391.03,280.01 L391.26,279.56 L391.49,279.10 L391.72,278.64 L391.95,278.18 L392.17,277.72 L392.40,277.26 L392.62,276.80 L392.84,276.34 L393.06,275.88 L393.28,275.41 L393.50,274.95 L393.72,274.49 L393.94,274.02 L394.15,273.56 L394.37,273.09 L394.58,272.62 L394.80,272.16 L395.01,271.69 L395.22,271.22 L395.44,270.76 L395.65,270.29 L395.86,269.82 L396.07,269.36 L396.29,268.89 L396.50,268.42 L396.71,267.95 L396.92,267.49 L397.13,267.02 L397.35,266.55 L397.56,266.09 L397.77,265.62 L397.98,265.15 L398.20,264.69 L398.41,264.22 L398.63,263.76 L398.84,263.29 L399.06,262.83 L399.27,262.37 L399.49,261.91 L399.71,261.44 L399.93,260.98 L400.15,260.52 L400.37,260.06 L400.59,259.60 L400.82,259.15 L401.04,258.69 L401.27,258.23 L401.50,257.78 L401.73,257.32 L401.96,256.87 L402.19,256.42 L402.42,255.97 L402.66,255.52 L402.90,255.07 L403.13,254.62 L403.37,254.18 L403.62,253.73 L403.86,253.29 L404.11,252.84 L404.36,252.40 L404.61,251.96 L404.86,251.52 L405.11,251.08 L405.37,250.64 L405.62,250.20 L405.88,249.77 L406.14,249.33 L406.41,248.90 L406.67,248.46 L406.94,248.03 L407.21,247.60 L407.48,247.16 L407.76,246.73 L408.04,246.30 L408.31,245.87 L408.60,245.45 L408.88,245.02 L409.17,244.59 L409.45,244.16 L409.74,243.74 L410.04,243.31 L410.33,242.89 L410.63,242.47 L410.93,242.04 L411.24,241.62 L411.54,241.20 L411.85,240.78 L412.16,240.36 L412.48,239.94 L412.79,239.52 L413.12,239.11 L413.44,238.70 L413.78,238.30 L414.11,237.91 L414.46,237.52 L414.81,237.15 L415.17,236.79 L415.54,236.44 L415.91,236.11 L416.30,235.79 L416.69,235.50 L417.10,235.21 L417.52,234.95 L417.95,234.71 L418.39,234.50 L418.84,234.32 L419.31,234.19 L419.78,234.11 L420.28,234.09 L420.78,234.11 L421.29,234.17 L421.80,234.27 L422.32,234.38 L422.84,234.51 L423.36,234.65 L423.87,234.80 L424.38,234.96 L424.87,235.14 L425.36,235.33 L425.82,235.55 L426.27,235.78 L426.70,236.04 L427.12,236.31 L427.52,236.61 L427.91,236.91 L428.30,237.23 L428.68,237.55 L429.05,237.88 L429.43,238.22 L429.81,238.56 L430.18,238.91 L430.55,239.26 L430.91,239.62 L431.28,239.98 L431.64,240.34 L432.00,240.71 L432.35,241.09 L432.70,241.46 L433.05,241.84 L433.40,242.23 L433.75,242.61 L434.09,243.00 L434.43,243.39 L434.76,243.78 L435.09,244.17 L435.42,244.56 L435.75,244.96 L436.07,245.36 L436.39,245.76 L436.70,246.16 L437.01,246.56 L437.32,246.97 L437.62,247.38 L437.92,247.79 L438.21,248.20 L438.50,248.62 L438.79,249.04 L439.07,249.46 L439.35,249.89 L439.62,250.32 L439.88,250.75 L440.15,251.18 L440.41,251.62 L440.66,252.06 L440.91,252.50 L441.16,252.95 L441.40,253.40 L441.64,253.85 L441.88,254.30 L442.12,254.75 L442.35,255.21 L442.58,255.66 L442.81,256.12 L443.04,256.58 L443.27,257.04 L443.49,257.50 L443.71,257.96 L443.94,258.42 L444.16,258.88 L444.38,259.35 L444.60,259.81 L444.82,260.27 L445.05,260.74 L445.27,261.20 L445.49,261.66 L445.71,262.12 L445.94,262.58 L446.17,263.05 L446.39,263.50 L446.62,263.96 L446.85,264.42 L447.08,264.88 L447.31,265.33 L447.55,265.79 L447.78,266.24 L448.02,266.70 L448.25,267.15 L448.49,267.60 L448.73,268.06 L448.97,268.51 L449.21,268.96 L449.46,269.41 L449.70,269.85 L449.95,270.30 L450.19,270.75 L450.44,271.20 L450.69,271.64 L450.94,272.09 L451.19,272.53 L451.44,272.98 L451.69,273.42 L451.95,273.86 L452.20,274.31 L452.46,274.75 L452.71,275.19 L452.97,275.63 L453.23,276.07 L453.49,276.51 L453.75,276.95 L454.01,277.38 L454.27,277.82 L454.53,278.26 L454.80,278.70 L455.06,279.13 L455.33,279.57 L455.60,280.00 L455.86,280.44 L456.13,280.87 L456.40,281.31 L456.67,281.74 L456.94,282.17 L457.21,282.61 L457.48,283.04 L457.76,283.47 L458.03,283.90 L458.30,284.34 L458.57,284.77 L458.84,285.20 L459.11,285.64 L459.38,286.07 L459.65,286.51 L459.92,286.94 L460.19,287.38 L460.45,287.81 L460.72,288.25 L460.98,288.69 L461.24,289.13 L461.51,289.57 L461.76,290.01 L462.02,290.46 L462.27,290.90 L462.53,291.35 L462.78,291.80 L463.02,292.25 L463.27,292.70 L463.52,293.15 L463.77,293.59 L464.01,294.04 L464.27,294.49 L464.52,294.93 L464.78,295.37 L465.04,295.81 L465.31,296.24 L465.58,296.67 L465.86,297.10 L466.15,297.51 L466.44,297.93 L466.74,298.34 L467.04,298.75 L467.35,299.15 L467.66,299.55 L467.98,299.94 L468.30,300.33 L468.63,300.72 L468.96,301.10 L469.30,301.48 L469.64,301.86 L469.99,302.23 L470.34,302.60 L470.69,302.96 L471.05,303.32 L471.41,303.68 L471.78,304.04 L472.15,304.39 L472.53,304.74 L472.90,305.09 L473.28,305.43 L473.67,305.77 L474.06,306.11 L474.45,306.44 L474.84,306.77 L475.24,307.10 L475.64,307.43 L476.04,307.76 L476.44,308.08 L476.85,308.39 L477.26,308.71 L477.68,309.02 L478.09,309.32 L478.51,309.63 L478.93,309.93 L479.36,310.22 L479.78,310.51 L480.21,310.80 L480.64,311.08 L481.08,311.35 L481.51,311.63 L481.95,311.89 L482.40,312.15 L482.84,312.41 L483.29,312.66 L483.73,312.90 L484.19,313.14 L484.64,313.37 L485.10,313.60 L485.55,313.82 L486.01,314.03 L486.48,314.24 L486.94,314.44 L487.41,314.63 L487.88,314.82 L488.35,315.00 L488.82,315.18 L489.29,315.35 L489.77,315.52 L490.25,315.67 L490.73,315.83 L491.21,315.98 L491.70,316.12 L492.18,316.26 L492.67,316.39 L493.16,316.52 L493.65,316.64 L494.14,316.76 L494.64,316.87 L495.13,316.98 L495.63,317.08 L496.12,317.18 L496.62,317.28 L497.12,317.37 L497.63,317.45 L498.13,317.54 L498.63,317.62 L499.14,317.69 L499.65,317.76 L500.15,317.83 L500.66,317.89 L501.17,317.95 L501.68,318.01 L502.20,318.06 L502.71,318.11 L503.22,318.16 L503.74,318.20 L504.25,318.24 L504.77,318.28 L505.28,318.31 L505.80,318.34 L506.32,318.37 L506.84,318.40 L507.35,318.43 L507.87,318.45 L508.39,318.47 L508.91,318.49 L509.43,318.50 L509.95,318.52 L510.48,318.53 L511.00,318.54 L511.52,318.55 L512.04,318.56 L512.56,318.56 L513.08,318.57 L513.61,318.57 L514.13,318.57 L514.65,318.57 L515.17,318.57 L515.69,318.57 L516.22,318.57 L516.74,318.57 L517.26,318.57 L517.78,318.56 L518.30,318.56 L518.82,318.56 L519.34,318.55 L519.86,318.55 L520.38,318.54 L520.90,318.54 L521.42,318.53 L521.93,318.53 L522.45,318.53 L522.97,318.52 L523.48,318.52 L524.00,318.52 L524.51,318.52 L525.02,318.52 L525.54,318.52 L526.05,318.52 L526.56,318.52 L527.07,318.53 L527.58,318.53 L528.08,318.54 L528.59,318.55 L529.10,318.56 L529.60,318.57 L530.10,318.58 L530.60,318.59 L531.10,318.61 L531.60,318.63 L532.10,318.65 L532.60,318.67 L533.09,318.70 L533.58,318.73 L534.08,318.76 L534.57,318.79 L535.06,318.83 L535.54,318.87 L536.03,318.91 L536.51,318.95 L536.99,319.00" fill="none" stroke="#ff0000" stroke-width="1.50" stroke-linecap="butt" clip-path="url(#cA4)"/>
<rect x="307.00" y="182.50" width="238.90" height="136.50" fill="none" stroke="#000" stroke-width="0.95"/>
<path d="M333.20,319.00v2.60M388.40,319.00v2.60M443.60,319.00v2.60M498.80,319.00v2.60M307.00,318.90h-2.60M307.00,294.20h-2.60M307.00,269.50h-2.60M307.00,244.80h-2.60M307.00,220.10h-2.60M307.00,195.40h-2.60" stroke="#000" stroke-width="0.95" fill="none"/>
<text x="333.20" y="333.00" text-anchor="middle">0.5</text>
<text x="388.40" y="333.00" text-anchor="middle">1.0</text>
<text x="443.60" y="333.00" text-anchor="middle">1.5</text>
<text x="498.80" y="333.00" text-anchor="middle">2.0</text>
<text x="301.50" y="323.20" text-anchor="end">0.0</text>
<text x="301.50" y="298.50" text-anchor="end">0.5</text>
<text x="301.50" y="273.80" text-anchor="end">1.0</text>
<text x="301.50" y="249.10" text-anchor="end">1.5</text>
<text x="301.50" y="224.40" text-anchor="end">2.0</text>
<text x="301.50" y="199.70" text-anchor="end">2.5</text>
<text x="426.45" y="345.60" text-anchor="middle">P1028</text>
</g>
<rect x="472.3" y="10.5" width="68" height="34" rx="2" ry="2" fill="#fff" fill-opacity="0.8" stroke="#cccccc" stroke-width="0.9"/>
<path d="M476.0,18.6h22.9" stroke="#0000ff" stroke-width="1.50" stroke-dasharray="4.3 1.9"/>
<path d="M476.0,33.75h22.9" stroke="#ff0000" stroke-width="1.50"/>
<text x="507.0" y="22.3">NUTS</text>
<text x="507.0" y="37.8">ADVI</text>
</svg>
</body></html>
